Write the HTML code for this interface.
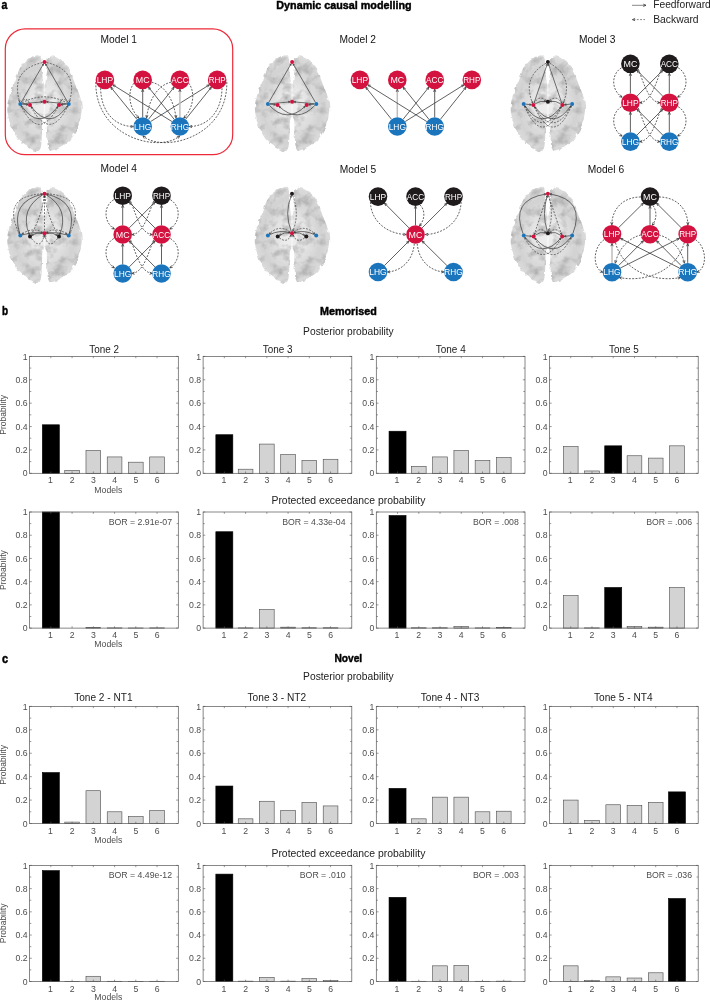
<!DOCTYPE html><html><head><meta charset="utf-8"><title>Dynamic causal modelling</title>
<style>html,body{margin:0;padding:0;background:#fff}svg{display:block}text{font-family:"Liberation Sans", sans-serif}</style></head><body>
<svg width="710" height="1000" viewBox="0 0 710 1000">
<rect width="710" height="1000" fill="#fff"/>
<defs>
<filter id="bf" x="-8%" y="-6%" width="116%" height="112%" color-interpolation-filters="sRGB"><feTurbulence type="fractalNoise" baseFrequency="0.17" numOctaves="2" seed="3" result="n1"/><feDisplacementMap in="SourceGraphic" in2="n1" scale="4" xChannelSelector="R" yChannelSelector="G" result="d"/><feOffset in="d" dx="0.3" dy="0.3" result="d2"/><feGaussianBlur in="d2" stdDeviation="0.75" result="sg"/><feTurbulence type="fractalNoise" baseFrequency="0.10" numOctaves="3" seed="11" result="n2"/><feColorMatrix in="n2" type="matrix" values="0 0 0 0 0.66  0 0 0 0 0.66  0 0 0 0 0.66  2.3 0 0 0 -1.04" result="dk"/><feComposite in="dk" in2="sg" operator="in" result="dk2"/><feMerge><feMergeNode in="sg"/><feMergeNode in="dk2"/></feMerge></filter>
<radialGradient id="bg" cx="0" cy="50" r="46" gradientUnits="userSpaceOnUse" gradientTransform="translate(0 50) scale(0.9 1.15) translate(0 -50)"><stop offset="0" stop-color="#f0f0f0"/><stop offset="0.3" stop-color="#e7e7e7"/><stop offset="0.72" stop-color="#d0d0d0"/><stop offset="1" stop-color="#dedede"/></radialGradient>
<g id="brain"><g filter="url(#bf)" opacity="0.95"><path d="M-3.00 5.10C-3.25 3.13 -3.75 2.00 -4.50 1.20C-5.25 0.40 -6.12 0.18 -7.50 0.30C-8.88 0.42 -10.67 0.68 -12.80 1.90C-14.93 3.12 -18.17 5.38 -20.30 7.60C-22.43 9.82 -24.12 12.23 -25.60 15.20C-27.08 18.17 -27.92 22.02 -29.20 25.40C-30.48 28.78 -32.08 32.13 -33.30 35.50C-34.52 38.87 -35.87 42.22 -36.50 45.60C-37.13 48.98 -37.32 52.42 -37.10 55.80C-36.88 59.18 -36.15 62.52 -35.20 65.90C-34.25 69.28 -32.98 72.93 -31.40 76.10C-29.82 79.27 -28.17 82.27 -25.70 84.90C-23.23 87.53 -19.38 90.03 -16.60 91.90C-13.82 93.77 -10.85 95.47 -9.00 96.10C-7.15 96.73 -6.42 96.50 -5.50 95.70C-4.58 94.90 -3.97 93.58 -3.50 91.30C-3.03 89.02 -2.88 85.22 -2.70 82.00C-2.52 78.78 -2.48 74.67 -2.40 72.00C-2.32 69.33 -2.47 67.67 -2.20 66.00C-1.93 64.33 -1.20 63.33 -0.80 62.00C-0.40 60.67 0.03 62.67 0.20 58.00C0.37 53.33 0.37 39.00 0.20 34.00C0.03 29.00 -0.43 30.17 -0.80 28.00C-1.17 25.83 -1.63 23.50 -2.00 21.00C-2.37 18.50 -2.83 15.65 -3.00 13.00C-3.17 10.35 -2.75 7.07 -3.00 5.10Z" fill="url(#bg)"/><path d="M3.00 5.10C3.25 3.13 3.75 2.00 4.50 1.20C5.25 0.40 6.12 0.18 7.50 0.30C8.88 0.42 10.67 0.68 12.80 1.90C14.93 3.12 18.17 5.38 20.30 7.60C22.43 9.82 24.12 12.23 25.60 15.20C27.08 18.17 27.92 22.02 29.20 25.40C30.48 28.78 32.08 32.13 33.30 35.50C34.52 38.87 35.87 42.22 36.50 45.60C37.13 48.98 37.32 52.42 37.10 55.80C36.88 59.18 36.15 62.52 35.20 65.90C34.25 69.28 32.98 72.93 31.40 76.10C29.82 79.27 28.17 82.27 25.70 84.90C23.23 87.53 19.38 90.03 16.60 91.90C13.82 93.77 10.85 95.47 9.00 96.10C7.15 96.73 6.42 96.50 5.50 95.70C4.58 94.90 3.97 93.58 3.50 91.30C3.03 89.02 2.88 85.22 2.70 82.00C2.52 78.78 2.48 74.67 2.40 72.00C2.32 69.33 2.47 67.67 2.20 66.00C1.93 64.33 1.20 63.33 0.80 62.00C0.40 60.67 -0.03 62.67 -0.20 58.00C-0.37 53.33 -0.37 39.00 -0.20 34.00C-0.03 29.00 0.43 30.17 0.80 28.00C1.17 25.83 1.63 23.50 2.00 21.00C2.37 18.50 2.83 15.65 3.00 13.00C3.17 10.35 2.75 7.07 3.00 5.10Z" fill="url(#bg)"/></g><path d="M0 30V60" stroke="#fff" stroke-opacity="0.45" stroke-width="1.6" fill="none"/></g>
</defs>
<rect x="5.3" y="28.9" width="227.4" height="125.8" rx="20" ry="20" fill="none" stroke="#ee2a3a" stroke-width="1.2"/>
<use href="#brain" x="44.5" y="55.0"/>
<use href="#brain" x="292.1" y="55.0"/>
<use href="#brain" x="547.9" y="55.0"/>
<use href="#brain" x="44.5" y="186.6"/>
<use href="#brain" x="292.0" y="186.6"/>
<use href="#brain" x="547.9" y="186.6"/>
<path d="M21.30 102.17L43.50 63.83" fill="none" stroke="#383838" stroke-width="0.7"/>
<path d="M43.28 65.55L43.50 63.83L42.11 64.88" fill="none" stroke="#383838" stroke-width="0.7" stroke-linecap="round" stroke-linejoin="round"/>
<path d="M67.70 102.17L45.50 63.83" fill="none" stroke="#383838" stroke-width="0.7"/>
<path d="M46.89 64.88L45.50 63.83L45.72 65.55" fill="none" stroke="#383838" stroke-width="0.7" stroke-linecap="round" stroke-linejoin="round"/>
<path d="M22.29 103.72L42.51 101.88" fill="none" stroke="#383838" stroke-width="0.7"/>
<path d="M40.98 102.70L42.51 101.88L40.85 101.36" fill="none" stroke="#383838" stroke-width="0.7" stroke-linecap="round" stroke-linejoin="round"/>
<path d="M66.71 103.72L46.49 101.88" fill="none" stroke="#383838" stroke-width="0.7"/>
<path d="M48.15 101.36L46.49 101.88L48.02 102.70" fill="none" stroke="#383838" stroke-width="0.7" stroke-linecap="round" stroke-linejoin="round"/>
<path d="M22.29 104.13L28.01 104.77" fill="none" stroke="#383838" stroke-width="0.7"/>
<path d="M26.35 105.26L28.01 104.77L26.50 103.93" fill="none" stroke="#383838" stroke-width="0.7" stroke-linecap="round" stroke-linejoin="round"/>
<path d="M66.71 104.13L60.99 104.77" fill="none" stroke="#383838" stroke-width="0.7"/>
<path d="M62.50 103.93L60.99 104.77L62.65 105.26" fill="none" stroke="#383838" stroke-width="0.7" stroke-linecap="round" stroke-linejoin="round"/>
<path d="M21.42 105.56Q38.88 131.54 57.79 106.59" fill="none" stroke="#383838" stroke-width="0.7"/>
<path d="M57.36 108.27L57.79 106.59L56.29 107.46" fill="none" stroke="#383838" stroke-width="0.7" stroke-linecap="round" stroke-linejoin="round"/>
<path d="M67.58 105.56Q50.12 131.54 31.21 106.59" fill="none" stroke="#383838" stroke-width="0.7"/>
<path d="M32.71 107.46L31.21 106.59L31.64 108.27" fill="none" stroke="#383838" stroke-width="0.7" stroke-linecap="round" stroke-linejoin="round"/>
<path d="M42.55 62.54Q9.83 69.93 19.71 101.99" fill="none" stroke="#383838" stroke-width="0.7" stroke-dasharray="1.9 1.4"/>
<path d="M18.60 100.66L19.71 101.99L19.88 100.26" fill="none" stroke="#383838" stroke-width="0.7" stroke-linecap="round" stroke-linejoin="round"/>
<path d="M46.45 62.54Q79.17 69.93 69.29 101.99" fill="none" stroke="#383838" stroke-width="0.7" stroke-dasharray="1.9 1.4"/>
<path d="M69.12 100.26L69.29 101.99L70.40 100.66" fill="none" stroke="#383838" stroke-width="0.7" stroke-linecap="round" stroke-linejoin="round"/>
<path d="M22.06 102.94Q44.50 90.74 66.94 102.94" fill="none" stroke="#383838" stroke-width="0.7" stroke-dasharray="1.9 1.4"/>
<path d="M58.04 106.75Q38.57 142.38 21.16 105.71" fill="none" stroke="#383838" stroke-width="0.7" stroke-dasharray="1.9 1.4"/>
<path d="M22.45 106.86L21.16 105.71L21.24 107.44" fill="none" stroke="#383838" stroke-width="0.7" stroke-linecap="round" stroke-linejoin="round"/>
<path d="M30.96 106.75Q50.43 142.38 67.84 105.71" fill="none" stroke="#383838" stroke-width="0.7" stroke-dasharray="1.9 1.4"/>
<path d="M67.76 107.44L67.84 105.71L66.55 106.86" fill="none" stroke="#383838" stroke-width="0.7" stroke-linecap="round" stroke-linejoin="round"/>
<path d="M29.23 103.15Q26.14 95.72 21.46 102.27" fill="none" stroke="#383838" stroke-width="0.7" stroke-dasharray="1.9 1.4"/>
<path d="M59.77 103.15Q62.86 95.72 67.54 102.27" fill="none" stroke="#383838" stroke-width="0.7" stroke-dasharray="1.9 1.4"/>
<circle cx="44.50" cy="62.10" r="2.0" fill="#d4123f"/>
<circle cx="44.50" cy="101.70" r="2.0" fill="#d4123f"/>
<circle cx="30.00" cy="105.00" r="2.0" fill="#d4123f"/>
<circle cx="59.00" cy="105.00" r="2.0" fill="#d4123f"/>
<circle cx="20.30" cy="103.90" r="2.0" fill="#1b75bc"/>
<circle cx="68.70" cy="103.90" r="2.0" fill="#1b75bc"/>
<path d="M136.84 119.28L110.76 87.12" fill="none" stroke="#383838" stroke-width="0.8"/>
<path d="M112.96 88.30L110.76 87.12L111.46 89.52" fill="none" stroke="#383838" stroke-width="0.8" stroke-linecap="round" stroke-linejoin="round"/>
<path d="M142.70 117.20L142.70 89.20" fill="none" stroke="#383838" stroke-width="0.8"/>
<path d="M143.67 91.50L142.70 89.20L141.73 91.50" fill="none" stroke="#383838" stroke-width="0.8" stroke-linecap="round" stroke-linejoin="round"/>
<path d="M148.50 119.23L174.10 87.17" fill="none" stroke="#383838" stroke-width="0.8"/>
<path d="M173.42 89.57L174.10 87.17L171.91 88.36" fill="none" stroke="#383838" stroke-width="0.8" stroke-linecap="round" stroke-linejoin="round"/>
<path d="M150.58 121.57L209.32 84.83" fill="none" stroke="#383838" stroke-width="0.8"/>
<path d="M207.88 86.87L209.32 84.83L206.85 85.23" fill="none" stroke="#383838" stroke-width="0.8" stroke-linecap="round" stroke-linejoin="round"/>
<path d="M172.00 121.59L112.80 84.81" fill="none" stroke="#383838" stroke-width="0.8"/>
<path d="M115.26 85.20L112.80 84.81L114.24 86.84" fill="none" stroke="#383838" stroke-width="0.8" stroke-linecap="round" stroke-linejoin="round"/>
<path d="M174.10 119.23L148.50 87.17" fill="none" stroke="#383838" stroke-width="0.8"/>
<path d="M150.69 88.36L148.50 87.17L149.18 89.57" fill="none" stroke="#383838" stroke-width="0.8" stroke-linecap="round" stroke-linejoin="round"/>
<path d="M179.90 117.20L179.90 89.20" fill="none" stroke="#bdbdbd" stroke-width="1.5"/>
<path d="M180.87 91.50L179.90 89.20L178.93 91.50" fill="none" stroke="#383838" stroke-width="0.8" stroke-linecap="round" stroke-linejoin="round"/>
<path d="M185.71 119.24L211.39 87.16" fill="none" stroke="#383838" stroke-width="0.8"/>
<path d="M210.71 89.56L211.39 87.16L209.20 88.35" fill="none" stroke="#383838" stroke-width="0.8" stroke-linecap="round" stroke-linejoin="round"/>
<path d="M100.60 88.20C101.00 112.00 115.00 126.50 133.30 126.50" fill="none" stroke="#383838" stroke-width="0.8" stroke-dasharray="1.9 1.4"/>
<path d="M131.00 127.47L133.30 126.50L131.00 125.53" fill="none" stroke="#383838" stroke-width="0.8" stroke-linecap="round" stroke-linejoin="round"/>
<path d="M222.00 88.20C221.60 112.00 207.60 126.50 189.30 126.50" fill="none" stroke="#383838" stroke-width="0.8" stroke-dasharray="1.9 1.4"/>
<path d="M191.60 125.53L189.30 126.50L191.60 127.47" fill="none" stroke="#383838" stroke-width="0.8" stroke-linecap="round" stroke-linejoin="round"/>
<path d="M95.80 82.00C95.00 138.00 160.00 153.00 179.60 136.00" fill="none" stroke="#383838" stroke-width="0.8" stroke-dasharray="1.9 1.4"/>
<path d="M178.50 138.24L179.60 136.00L177.23 136.78" fill="none" stroke="#383838" stroke-width="0.8" stroke-linecap="round" stroke-linejoin="round"/>
<path d="M226.80 82.00C227.60 138.00 162.60 153.00 143.00 136.00" fill="none" stroke="#383838" stroke-width="0.8" stroke-dasharray="1.9 1.4"/>
<path d="M145.37 136.78L143.00 136.00L144.10 138.24" fill="none" stroke="#383838" stroke-width="0.8" stroke-linecap="round" stroke-linejoin="round"/>
<path d="M134.00 83.10C127.00 92.00 129.00 108.00 138.80 118.10" fill="none" stroke="#383838" stroke-width="0.8" stroke-dasharray="1.9 1.4"/>
<path d="M136.51 117.12L138.80 118.10L137.89 115.78" fill="none" stroke="#383838" stroke-width="0.8" stroke-linecap="round" stroke-linejoin="round"/>
<path d="M188.60 83.10C195.60 92.00 193.60 108.00 183.80 118.10" fill="none" stroke="#383838" stroke-width="0.8" stroke-dasharray="1.9 1.4"/>
<path d="M184.71 115.78L183.80 118.10L186.09 117.12" fill="none" stroke="#383838" stroke-width="0.8" stroke-linecap="round" stroke-linejoin="round"/>
<path d="M171.00 82.20C158.00 85.00 148.50 100.00 146.60 118.00" fill="none" stroke="#383838" stroke-width="0.8" stroke-dasharray="1.9 1.4"/>
<path d="M145.88 115.61L146.60 118.00L147.80 115.81" fill="none" stroke="#383838" stroke-width="0.8" stroke-linecap="round" stroke-linejoin="round"/>
<path d="M151.60 82.20C164.60 85.00 174.10 100.00 176.00 118.00" fill="none" stroke="#383838" stroke-width="0.8" stroke-dasharray="1.9 1.4"/>
<path d="M174.80 115.81L176.00 118.00L176.72 115.61" fill="none" stroke="#383838" stroke-width="0.8" stroke-linecap="round" stroke-linejoin="round"/>
<circle cx="104.90" cy="79.90" r="9.3" fill="#d4123f"/>
<text x="104.90" y="82.90" font-size="8.4" text-anchor="middle" fill="#fff" textLength="16.4" lengthAdjust="spacingAndGlyphs" >LHP</text>
<circle cx="142.70" cy="79.90" r="9.3" fill="#d4123f"/>
<text x="142.70" y="82.90" font-size="8.4" text-anchor="middle" fill="#fff" textLength="13.8" lengthAdjust="spacingAndGlyphs" >MC</text>
<circle cx="179.90" cy="79.90" r="9.3" fill="#d4123f"/>
<text x="179.90" y="82.90" font-size="8.4" text-anchor="middle" fill="#fff" textLength="17.3" lengthAdjust="spacingAndGlyphs" >ACC</text>
<circle cx="217.20" cy="79.90" r="9.3" fill="#d4123f"/>
<text x="217.20" y="82.90" font-size="8.4" text-anchor="middle" fill="#fff" textLength="17.1" lengthAdjust="spacingAndGlyphs" >RHP</text>
<circle cx="142.70" cy="126.50" r="9.3" fill="#1b75bc"/>
<text x="142.70" y="129.50" font-size="8.4" text-anchor="middle" fill="#fff" textLength="17.3" lengthAdjust="spacingAndGlyphs" >LHG</text>
<circle cx="179.90" cy="126.50" r="9.3" fill="#1b75bc"/>
<text x="179.90" y="129.50" font-size="8.4" text-anchor="middle" fill="#fff" textLength="18.3" lengthAdjust="spacingAndGlyphs" >RHG</text>
<path d="M268.90 102.17L291.10 63.83" fill="none" stroke="#383838" stroke-width="0.7"/>
<path d="M290.88 65.55L291.10 63.83L289.71 64.88" fill="none" stroke="#383838" stroke-width="0.7" stroke-linecap="round" stroke-linejoin="round"/>
<path d="M315.30 102.17L293.10 63.83" fill="none" stroke="#383838" stroke-width="0.7"/>
<path d="M294.49 64.88L293.10 63.83L293.32 65.55" fill="none" stroke="#383838" stroke-width="0.7" stroke-linecap="round" stroke-linejoin="round"/>
<path d="M269.89 103.72L290.11 101.88" fill="none" stroke="#383838" stroke-width="0.7"/>
<path d="M288.58 102.70L290.11 101.88L288.45 101.36" fill="none" stroke="#383838" stroke-width="0.7" stroke-linecap="round" stroke-linejoin="round"/>
<path d="M314.31 103.72L294.09 101.88" fill="none" stroke="#383838" stroke-width="0.7"/>
<path d="M295.75 101.36L294.09 101.88L295.62 102.70" fill="none" stroke="#383838" stroke-width="0.7" stroke-linecap="round" stroke-linejoin="round"/>
<path d="M269.89 104.13L275.61 104.77" fill="none" stroke="#383838" stroke-width="0.7"/>
<path d="M273.95 105.26L275.61 104.77L274.10 103.93" fill="none" stroke="#383838" stroke-width="0.7" stroke-linecap="round" stroke-linejoin="round"/>
<path d="M314.31 104.13L308.59 104.77" fill="none" stroke="#383838" stroke-width="0.7"/>
<path d="M310.10 103.93L308.59 104.77L310.25 105.26" fill="none" stroke="#383838" stroke-width="0.7" stroke-linecap="round" stroke-linejoin="round"/>
<path d="M269.27 105.35Q286.70 123.80 305.15 106.37" fill="none" stroke="#383838" stroke-width="0.7"/>
<path d="M304.44 107.96L305.15 106.37L303.52 106.98" fill="none" stroke="#383838" stroke-width="0.7" stroke-linecap="round" stroke-linejoin="round"/>
<path d="M314.93 105.35Q297.50 123.80 279.05 106.37" fill="none" stroke="#383838" stroke-width="0.7"/>
<path d="M280.68 106.98L279.05 106.37L279.76 107.96" fill="none" stroke="#383838" stroke-width="0.7" stroke-linecap="round" stroke-linejoin="round"/>
<circle cx="292.10" cy="62.10" r="2.0" fill="#d4123f"/>
<circle cx="292.10" cy="101.70" r="2.0" fill="#d4123f"/>
<circle cx="277.60" cy="105.00" r="2.0" fill="#d4123f"/>
<circle cx="306.60" cy="105.00" r="2.0" fill="#d4123f"/>
<circle cx="267.90" cy="103.90" r="2.0" fill="#1b75bc"/>
<circle cx="316.30" cy="103.90" r="2.0" fill="#1b75bc"/>
<path d="M391.48 119.25L365.72 87.15" fill="none" stroke="#383838" stroke-width="0.8"/>
<path d="M367.91 88.34L365.72 87.15L366.41 89.55" fill="none" stroke="#383838" stroke-width="0.8" stroke-linecap="round" stroke-linejoin="round"/>
<path d="M397.30 117.20L397.30 89.20" fill="none" stroke="#bdbdbd" stroke-width="1.5"/>
<path d="M398.27 91.50L397.30 89.20L396.33 91.50" fill="none" stroke="#383838" stroke-width="0.8" stroke-linecap="round" stroke-linejoin="round"/>
<path d="M403.12 119.25L428.88 87.15" fill="none" stroke="#383838" stroke-width="0.8"/>
<path d="M428.19 89.55L428.88 87.15L426.69 88.34" fill="none" stroke="#383838" stroke-width="0.8" stroke-linecap="round" stroke-linejoin="round"/>
<path d="M405.18 121.57L463.92 84.83" fill="none" stroke="#383838" stroke-width="0.8"/>
<path d="M462.48 86.87L463.92 84.83L461.45 85.23" fill="none" stroke="#383838" stroke-width="0.8" stroke-linecap="round" stroke-linejoin="round"/>
<path d="M426.81 121.58L367.79 84.82" fill="none" stroke="#383838" stroke-width="0.8"/>
<path d="M370.26 85.21L367.79 84.82L369.23 86.85" fill="none" stroke="#383838" stroke-width="0.8" stroke-linecap="round" stroke-linejoin="round"/>
<path d="M428.88 119.25L403.12 87.15" fill="none" stroke="#383838" stroke-width="0.8"/>
<path d="M405.31 88.34L403.12 87.15L403.81 89.55" fill="none" stroke="#383838" stroke-width="0.8" stroke-linecap="round" stroke-linejoin="round"/>
<path d="M434.70 117.20L434.70 89.20" fill="none" stroke="#383838" stroke-width="0.8"/>
<path d="M435.67 91.50L434.70 89.20L433.73 91.50" fill="none" stroke="#383838" stroke-width="0.8" stroke-linecap="round" stroke-linejoin="round"/>
<path d="M440.49 119.22L466.01 87.18" fill="none" stroke="#383838" stroke-width="0.8"/>
<path d="M465.33 89.58L466.01 87.18L463.82 88.37" fill="none" stroke="#383838" stroke-width="0.8" stroke-linecap="round" stroke-linejoin="round"/>
<circle cx="359.90" cy="79.90" r="9.3" fill="#d4123f"/>
<text x="359.90" y="82.90" font-size="8.4" text-anchor="middle" fill="#fff" textLength="16.4" lengthAdjust="spacingAndGlyphs" >LHP</text>
<circle cx="397.30" cy="79.90" r="9.3" fill="#d4123f"/>
<text x="397.30" y="82.90" font-size="8.4" text-anchor="middle" fill="#fff" textLength="13.8" lengthAdjust="spacingAndGlyphs" >MC</text>
<circle cx="434.70" cy="79.90" r="9.3" fill="#d4123f"/>
<text x="434.70" y="82.90" font-size="8.4" text-anchor="middle" fill="#fff" textLength="17.3" lengthAdjust="spacingAndGlyphs" >ACC</text>
<circle cx="471.80" cy="79.90" r="9.3" fill="#d4123f"/>
<text x="471.80" y="82.90" font-size="8.4" text-anchor="middle" fill="#fff" textLength="17.1" lengthAdjust="spacingAndGlyphs" >RHP</text>
<circle cx="397.30" cy="126.50" r="9.3" fill="#1b75bc"/>
<text x="397.30" y="129.50" font-size="8.4" text-anchor="middle" fill="#fff" textLength="17.3" lengthAdjust="spacingAndGlyphs" >LHG</text>
<circle cx="434.70" cy="126.50" r="9.3" fill="#1b75bc"/>
<text x="434.70" y="129.50" font-size="8.4" text-anchor="middle" fill="#fff" textLength="18.3" lengthAdjust="spacingAndGlyphs" >RHG</text>
<path d="M525.69 104.13L531.41 104.77" fill="none" stroke="#383838" stroke-width="0.7"/>
<path d="M529.75 105.26L531.41 104.77L529.90 103.93" fill="none" stroke="#383838" stroke-width="0.7" stroke-linecap="round" stroke-linejoin="round"/>
<path d="M570.11 104.13L564.39 104.77" fill="none" stroke="#383838" stroke-width="0.7"/>
<path d="M565.90 103.93L564.39 104.77L566.05 105.26" fill="none" stroke="#383838" stroke-width="0.7" stroke-linecap="round" stroke-linejoin="round"/>
<path d="M524.82 105.56Q542.28 131.54 561.19 106.59" fill="none" stroke="#383838" stroke-width="0.7"/>
<path d="M560.76 108.27L561.19 106.59L559.69 107.46" fill="none" stroke="#383838" stroke-width="0.7" stroke-linecap="round" stroke-linejoin="round"/>
<path d="M570.98 105.56Q553.52 131.54 534.61 106.59" fill="none" stroke="#383838" stroke-width="0.7"/>
<path d="M536.11 107.46L534.61 106.59L535.04 108.27" fill="none" stroke="#383838" stroke-width="0.7" stroke-linecap="round" stroke-linejoin="round"/>
<path d="M534.04 103.11L547.26 63.99" fill="none" stroke="#383838" stroke-width="0.7"/>
<path d="M547.38 65.73L547.26 63.99L546.11 65.30" fill="none" stroke="#383838" stroke-width="0.7" stroke-linecap="round" stroke-linejoin="round"/>
<path d="M561.76 103.11L548.54 63.99" fill="none" stroke="#383838" stroke-width="0.7"/>
<path d="M549.69 65.30L548.54 63.99L548.42 65.73" fill="none" stroke="#383838" stroke-width="0.7" stroke-linecap="round" stroke-linejoin="round"/>
<path d="M535.05 103.86Q539.99 100.45 545.92 101.39" fill="none" stroke="#383838" stroke-width="0.7"/>
<path d="M544.24 101.80L545.92 101.39L544.45 100.47" fill="none" stroke="#383838" stroke-width="0.7" stroke-linecap="round" stroke-linejoin="round"/>
<path d="M560.75 103.86Q555.81 100.45 549.88 101.39" fill="none" stroke="#383838" stroke-width="0.7"/>
<path d="M551.35 100.47L549.88 101.39L551.56 101.80" fill="none" stroke="#383838" stroke-width="0.7" stroke-linecap="round" stroke-linejoin="round"/>
<path d="M546.17 63.10Q521.77 77.17 532.63 103.15" fill="none" stroke="#383838" stroke-width="0.7" stroke-dasharray="1.9 1.4"/>
<path d="M531.39 101.94L532.63 103.15L532.63 101.42" fill="none" stroke="#383838" stroke-width="0.7" stroke-linecap="round" stroke-linejoin="round"/>
<path d="M549.63 63.10Q574.03 77.17 563.17 103.15" fill="none" stroke="#383838" stroke-width="0.7" stroke-dasharray="1.9 1.4"/>
<path d="M563.17 101.42L563.17 103.15L564.41 101.94" fill="none" stroke="#383838" stroke-width="0.7" stroke-linecap="round" stroke-linejoin="round"/>
<path d="M546.31 100.49Q538.67 94.65 534.31 103.22" fill="none" stroke="#383838" stroke-width="0.7" stroke-dasharray="1.9 1.4"/>
<path d="M549.49 100.49Q557.13 94.65 561.49 103.22" fill="none" stroke="#383838" stroke-width="0.7" stroke-dasharray="1.9 1.4"/>
<path d="M561.38 106.72Q542.06 139.28 524.62 105.68" fill="none" stroke="#383838" stroke-width="0.7" stroke-dasharray="1.9 1.4"/>
<path d="M525.95 106.79L524.62 105.68L524.76 107.40" fill="none" stroke="#383838" stroke-width="0.7" stroke-linecap="round" stroke-linejoin="round"/>
<path d="M534.42 106.72Q553.74 139.28 571.18 105.68" fill="none" stroke="#383838" stroke-width="0.7" stroke-dasharray="1.9 1.4"/>
<path d="M571.04 107.40L571.18 105.68L569.85 106.79" fill="none" stroke="#383838" stroke-width="0.7" stroke-linecap="round" stroke-linejoin="round"/>
<path d="M561.53 106.80Q541.82 147.79 524.46 105.75" fill="none" stroke="#383838" stroke-width="0.7" stroke-dasharray="1.9 1.4"/>
<path d="M534.27 106.80Q553.98 147.79 571.34 105.75" fill="none" stroke="#383838" stroke-width="0.7" stroke-dasharray="1.9 1.4"/>
<circle cx="547.90" cy="62.10" r="2.0" fill="#1f1a1b"/>
<circle cx="547.90" cy="101.70" r="2.0" fill="#1f1a1b"/>
<circle cx="533.40" cy="105.00" r="2.0" fill="#d4123f"/>
<circle cx="562.40" cy="105.00" r="2.0" fill="#d4123f"/>
<circle cx="523.70" cy="103.90" r="2.0" fill="#1b75bc"/>
<circle cx="572.10" cy="103.90" r="2.0" fill="#1b75bc"/>
<path d="M630.40 132.30L630.40 112.00" fill="none" stroke="#383838" stroke-width="0.8"/>
<path d="M631.37 114.30L630.40 112.00L629.43 114.30" fill="none" stroke="#383838" stroke-width="0.8" stroke-linecap="round" stroke-linejoin="round"/>
<path d="M636.98 135.02L662.72 109.28" fill="none" stroke="#383838" stroke-width="0.8"/>
<path d="M661.78 111.59L662.72 109.28L660.41 110.22" fill="none" stroke="#383838" stroke-width="0.8" stroke-linecap="round" stroke-linejoin="round"/>
<path d="M662.72 135.02L636.98 109.28" fill="none" stroke="#383838" stroke-width="0.8"/>
<path d="M639.29 110.22L636.98 109.28L637.92 111.59" fill="none" stroke="#383838" stroke-width="0.8" stroke-linecap="round" stroke-linejoin="round"/>
<path d="M669.30 132.30L669.30 112.00" fill="none" stroke="#383838" stroke-width="0.8"/>
<path d="M670.27 114.30L669.30 112.00L668.33 114.30" fill="none" stroke="#383838" stroke-width="0.8" stroke-linecap="round" stroke-linejoin="round"/>
<path d="M621.50 106.70C611.00 113.00 611.00 129.00 622.10 136.10" fill="none" stroke="#383838" stroke-width="0.8" stroke-dasharray="1.9 1.4"/>
<path d="M619.64 135.67L622.10 136.10L620.68 134.05" fill="none" stroke="#383838" stroke-width="0.8" stroke-linecap="round" stroke-linejoin="round"/>
<path d="M678.20 106.70C688.70 113.00 688.70 129.00 677.60 136.10" fill="none" stroke="#383838" stroke-width="0.8" stroke-dasharray="1.9 1.4"/>
<path d="M679.02 134.05L677.60 136.10L680.06 135.67" fill="none" stroke="#383838" stroke-width="0.8" stroke-linecap="round" stroke-linejoin="round"/>
<path d="M638.20 108.00C643.00 119.00 648.00 141.00 660.00 141.60" fill="none" stroke="#383838" stroke-width="0.8" stroke-dasharray="1.9 1.4"/>
<path d="M657.65 142.45L660.00 141.60L657.75 140.52" fill="none" stroke="#383838" stroke-width="0.8" stroke-linecap="round" stroke-linejoin="round"/>
<path d="M661.50 108.00C656.70 119.00 651.70 141.00 639.70 141.60" fill="none" stroke="#383838" stroke-width="0.8" stroke-dasharray="1.9 1.4"/>
<path d="M641.95 140.52L639.70 141.60L642.05 142.45" fill="none" stroke="#383838" stroke-width="0.8" stroke-linecap="round" stroke-linejoin="round"/>
<path d="M630.40 93.40L630.40 73.10" fill="none" stroke="#383838" stroke-width="0.8"/>
<path d="M631.37 75.40L630.40 73.10L629.43 75.40" fill="none" stroke="#383838" stroke-width="0.8" stroke-linecap="round" stroke-linejoin="round"/>
<path d="M636.98 96.12L662.72 70.38" fill="none" stroke="#383838" stroke-width="0.8"/>
<path d="M661.78 72.69L662.72 70.38L660.41 71.32" fill="none" stroke="#383838" stroke-width="0.8" stroke-linecap="round" stroke-linejoin="round"/>
<path d="M662.72 96.12L636.98 70.38" fill="none" stroke="#383838" stroke-width="0.8"/>
<path d="M639.29 71.32L636.98 70.38L637.92 72.69" fill="none" stroke="#383838" stroke-width="0.8" stroke-linecap="round" stroke-linejoin="round"/>
<path d="M669.30 93.40L669.30 73.10" fill="none" stroke="#383838" stroke-width="0.8"/>
<path d="M670.27 75.40L669.30 73.10L668.33 75.40" fill="none" stroke="#383838" stroke-width="0.8" stroke-linecap="round" stroke-linejoin="round"/>
<path d="M621.50 67.80C611.00 74.10 611.00 90.10 622.10 97.20" fill="none" stroke="#383838" stroke-width="0.8" stroke-dasharray="1.9 1.4"/>
<path d="M619.64 96.77L622.10 97.20L620.68 95.15" fill="none" stroke="#383838" stroke-width="0.8" stroke-linecap="round" stroke-linejoin="round"/>
<path d="M678.20 67.80C688.70 74.10 688.70 90.10 677.60 97.20" fill="none" stroke="#383838" stroke-width="0.8" stroke-dasharray="1.9 1.4"/>
<path d="M679.02 95.15L677.60 97.20L680.06 96.77" fill="none" stroke="#383838" stroke-width="0.8" stroke-linecap="round" stroke-linejoin="round"/>
<path d="M638.20 69.10C643.00 80.10 648.00 102.10 660.00 102.70" fill="none" stroke="#383838" stroke-width="0.8" stroke-dasharray="1.9 1.4"/>
<path d="M657.65 103.55L660.00 102.70L657.75 101.62" fill="none" stroke="#383838" stroke-width="0.8" stroke-linecap="round" stroke-linejoin="round"/>
<path d="M661.50 69.10C656.70 80.10 651.70 102.10 639.70 102.70" fill="none" stroke="#383838" stroke-width="0.8" stroke-dasharray="1.9 1.4"/>
<path d="M641.95 101.62L639.70 102.70L642.05 103.55" fill="none" stroke="#383838" stroke-width="0.8" stroke-linecap="round" stroke-linejoin="round"/>
<circle cx="630.40" cy="63.80" r="9.3" fill="#1f1a1b"/>
<text x="630.40" y="66.80" font-size="8.4" text-anchor="middle" fill="#fff" textLength="13.8" lengthAdjust="spacingAndGlyphs" >MC</text>
<circle cx="669.30" cy="63.80" r="9.3" fill="#1f1a1b"/>
<text x="669.30" y="66.80" font-size="8.4" text-anchor="middle" fill="#fff" textLength="17.3" lengthAdjust="spacingAndGlyphs" >ACC</text>
<circle cx="630.40" cy="102.70" r="9.3" fill="#d4123f"/>
<text x="630.40" y="105.70" font-size="8.4" text-anchor="middle" fill="#fff" textLength="16.4" lengthAdjust="spacingAndGlyphs" >LHP</text>
<circle cx="669.30" cy="102.70" r="9.3" fill="#d4123f"/>
<text x="669.30" y="105.70" font-size="8.4" text-anchor="middle" fill="#fff" textLength="17.1" lengthAdjust="spacingAndGlyphs" >RHP</text>
<circle cx="630.40" cy="141.60" r="9.3" fill="#1b75bc"/>
<text x="630.40" y="144.60" font-size="8.4" text-anchor="middle" fill="#fff" textLength="17.3" lengthAdjust="spacingAndGlyphs" >LHG</text>
<circle cx="669.30" cy="141.60" r="9.3" fill="#1b75bc"/>
<text x="669.30" y="144.60" font-size="8.4" text-anchor="middle" fill="#fff" textLength="18.3" lengthAdjust="spacingAndGlyphs" >RHG</text>
<path d="M19.71 233.59Q9.83 201.53 42.55 194.14" fill="none" stroke="#383838" stroke-width="0.7"/>
<path d="M41.14 195.15L42.55 194.14L40.84 193.84" fill="none" stroke="#383838" stroke-width="0.7" stroke-linecap="round" stroke-linejoin="round"/>
<path d="M69.29 233.59Q79.17 201.53 46.45 194.14" fill="none" stroke="#383838" stroke-width="0.7"/>
<path d="M48.16 193.84L46.45 194.14L47.86 195.15" fill="none" stroke="#383838" stroke-width="0.7" stroke-linecap="round" stroke-linejoin="round"/>
<path d="M22.19 234.86Q32.14 231.50 42.52 233.01" fill="none" stroke="#383838" stroke-width="0.7"/>
<path d="M40.84 233.45L42.52 233.01L41.03 232.12" fill="none" stroke="#383838" stroke-width="0.7" stroke-linecap="round" stroke-linejoin="round"/>
<path d="M66.81 234.86Q56.86 231.50 46.48 233.01" fill="none" stroke="#383838" stroke-width="0.7"/>
<path d="M47.97 232.12L46.48 233.01L48.16 233.45" fill="none" stroke="#383838" stroke-width="0.7" stroke-linecap="round" stroke-linejoin="round"/>
<path d="M42.79 194.74Q19.23 209.06 29.27 234.74" fill="none" stroke="#383838" stroke-width="0.7"/>
<path d="M28.06 233.49L29.27 234.74L29.31 233.00" fill="none" stroke="#383838" stroke-width="0.7" stroke-linecap="round" stroke-linejoin="round"/>
<path d="M46.21 194.74Q69.77 209.06 59.73 234.74" fill="none" stroke="#383838" stroke-width="0.7"/>
<path d="M59.69 233.00L59.73 234.74L60.94 233.49" fill="none" stroke="#383838" stroke-width="0.7" stroke-linecap="round" stroke-linejoin="round"/>
<path d="M42.52 232.99Q36.59 232.05 31.65 235.46" fill="none" stroke="#383838" stroke-width="0.7"/>
<path d="M32.58 234.00L31.65 235.46L33.34 235.11" fill="none" stroke="#383838" stroke-width="0.7" stroke-linecap="round" stroke-linejoin="round"/>
<path d="M46.48 232.99Q52.41 232.05 57.35 235.46" fill="none" stroke="#383838" stroke-width="0.7"/>
<path d="M55.66 235.11L57.35 235.46L56.42 234.00" fill="none" stroke="#383838" stroke-width="0.7" stroke-linecap="round" stroke-linejoin="round"/>
<path d="M42.50 193.81Q0.63 196.21 19.40 233.71" fill="none" stroke="#383838" stroke-width="0.7" stroke-dasharray="1.9 1.4"/>
<path d="M18.09 232.58L19.40 233.71L19.29 231.98" fill="none" stroke="#383838" stroke-width="0.7" stroke-linecap="round" stroke-linejoin="round"/>
<path d="M46.50 193.81Q88.37 196.21 69.60 233.71" fill="none" stroke="#383838" stroke-width="0.7" stroke-dasharray="1.9 1.4"/>
<path d="M69.71 231.98L69.60 233.71L70.91 232.58" fill="none" stroke="#383838" stroke-width="0.7" stroke-linecap="round" stroke-linejoin="round"/>
<path d="M31.00 234.87Q41.54 216.60 44.24 195.68" fill="none" stroke="#383838" stroke-width="0.7" stroke-dasharray="1.9 1.4"/>
<path d="M44.70 197.36L44.24 195.68L43.37 197.18" fill="none" stroke="#383838" stroke-width="0.7" stroke-linecap="round" stroke-linejoin="round"/>
<path d="M58.00 234.87Q47.46 216.60 44.76 195.68" fill="none" stroke="#383838" stroke-width="0.7" stroke-dasharray="1.9 1.4"/>
<path d="M45.63 197.18L44.76 195.68L44.30 197.36" fill="none" stroke="#383838" stroke-width="0.7" stroke-linecap="round" stroke-linejoin="round"/>
<path d="M44.50 195.70L44.50 231.30" fill="none" stroke="#383838" stroke-width="0.7" stroke-dasharray="1.9 1.4"/>
<path d="M42.72 232.38Q31.70 226.66 21.88 234.27" fill="none" stroke="#383838" stroke-width="0.7" stroke-dasharray="1.9 1.4"/>
<path d="M22.73 232.76L21.88 234.27L23.56 233.82" fill="none" stroke="#383838" stroke-width="0.7" stroke-linecap="round" stroke-linejoin="round"/>
<path d="M46.28 232.38Q57.30 226.66 67.12 234.27" fill="none" stroke="#383838" stroke-width="0.7" stroke-dasharray="1.9 1.4"/>
<path d="M65.44 233.82L67.12 234.27L66.27 232.76" fill="none" stroke="#383838" stroke-width="0.7" stroke-linecap="round" stroke-linejoin="round"/>
<path d="M31.21 238.19Q40.88 250.90 44.10 235.26" fill="none" stroke="#383838" stroke-width="0.7" stroke-dasharray="1.9 1.4"/>
<path d="M44.43 236.96L44.10 235.26L43.12 236.69" fill="none" stroke="#383838" stroke-width="0.7" stroke-linecap="round" stroke-linejoin="round"/>
<path d="M57.79 238.19Q48.12 250.90 44.90 235.26" fill="none" stroke="#383838" stroke-width="0.7" stroke-dasharray="1.9 1.4"/>
<path d="M45.88 236.69L44.90 235.26L44.57 236.96" fill="none" stroke="#383838" stroke-width="0.7" stroke-linecap="round" stroke-linejoin="round"/>
<circle cx="44.50" cy="193.70" r="2.0" fill="#d4123f"/>
<circle cx="44.50" cy="233.30" r="2.0" fill="#d4123f"/>
<circle cx="30.00" cy="236.60" r="2.0" fill="#1f1a1b"/>
<circle cx="59.00" cy="236.60" r="2.0" fill="#1f1a1b"/>
<circle cx="20.30" cy="235.50" r="2.0" fill="#1b75bc"/>
<circle cx="68.70" cy="235.50" r="2.0" fill="#1b75bc"/>
<path d="M122.70 264.20L122.70 243.80" fill="none" stroke="#383838" stroke-width="0.8"/>
<path d="M123.67 246.10L122.70 243.80L121.73 246.10" fill="none" stroke="#383838" stroke-width="0.8" stroke-linecap="round" stroke-linejoin="round"/>
<path d="M129.26 266.91L154.94 241.09" fill="none" stroke="#383838" stroke-width="0.8"/>
<path d="M154.00 243.40L154.94 241.09L152.63 242.04" fill="none" stroke="#383838" stroke-width="0.8" stroke-linecap="round" stroke-linejoin="round"/>
<path d="M154.94 266.91L129.26 241.09" fill="none" stroke="#383838" stroke-width="0.8"/>
<path d="M131.57 242.04L129.26 241.09L130.20 243.40" fill="none" stroke="#383838" stroke-width="0.8" stroke-linecap="round" stroke-linejoin="round"/>
<path d="M161.50 264.20L161.50 243.80" fill="none" stroke="#383838" stroke-width="0.8"/>
<path d="M162.47 246.10L161.50 243.80L160.53 246.10" fill="none" stroke="#383838" stroke-width="0.8" stroke-linecap="round" stroke-linejoin="round"/>
<path d="M113.80 238.50C103.30 244.80 103.30 260.80 114.40 267.90" fill="none" stroke="#383838" stroke-width="0.8" stroke-dasharray="1.9 1.4"/>
<path d="M111.94 267.47L114.40 267.90L112.98 265.85" fill="none" stroke="#383838" stroke-width="0.8" stroke-linecap="round" stroke-linejoin="round"/>
<path d="M170.40 238.50C180.90 244.80 180.90 260.80 169.80 267.90" fill="none" stroke="#383838" stroke-width="0.8" stroke-dasharray="1.9 1.4"/>
<path d="M171.22 265.85L169.80 267.90L172.26 267.47" fill="none" stroke="#383838" stroke-width="0.8" stroke-linecap="round" stroke-linejoin="round"/>
<path d="M130.50 239.80C135.30 250.80 140.30 272.80 152.30 273.40" fill="none" stroke="#383838" stroke-width="0.8" stroke-dasharray="1.9 1.4"/>
<path d="M149.95 274.25L152.30 273.40L150.05 272.32" fill="none" stroke="#383838" stroke-width="0.8" stroke-linecap="round" stroke-linejoin="round"/>
<path d="M153.70 239.80C148.90 250.80 143.90 272.80 131.90 273.40" fill="none" stroke="#383838" stroke-width="0.8" stroke-dasharray="1.9 1.4"/>
<path d="M134.15 272.32L131.90 273.40L134.25 274.25" fill="none" stroke="#383838" stroke-width="0.8" stroke-linecap="round" stroke-linejoin="round"/>
<path d="M122.70 225.20L122.70 205.00" fill="none" stroke="#383838" stroke-width="0.8"/>
<path d="M123.67 207.30L122.70 205.00L121.73 207.30" fill="none" stroke="#383838" stroke-width="0.8" stroke-linecap="round" stroke-linejoin="round"/>
<path d="M129.28 227.92L154.92 202.28" fill="none" stroke="#383838" stroke-width="0.8"/>
<path d="M153.98 204.59L154.92 202.28L152.61 203.22" fill="none" stroke="#383838" stroke-width="0.8" stroke-linecap="round" stroke-linejoin="round"/>
<path d="M154.92 227.92L129.28 202.28" fill="none" stroke="#383838" stroke-width="0.8"/>
<path d="M131.59 203.22L129.28 202.28L130.22 204.59" fill="none" stroke="#383838" stroke-width="0.8" stroke-linecap="round" stroke-linejoin="round"/>
<path d="M161.50 225.20L161.50 205.00" fill="none" stroke="#383838" stroke-width="0.8"/>
<path d="M162.47 207.30L161.50 205.00L160.53 207.30" fill="none" stroke="#383838" stroke-width="0.8" stroke-linecap="round" stroke-linejoin="round"/>
<path d="M113.80 199.70C103.30 206.00 103.30 222.00 114.40 229.10" fill="none" stroke="#383838" stroke-width="0.8" stroke-dasharray="1.9 1.4"/>
<path d="M111.94 228.67L114.40 229.10L112.98 227.05" fill="none" stroke="#383838" stroke-width="0.8" stroke-linecap="round" stroke-linejoin="round"/>
<path d="M170.40 199.70C180.90 206.00 180.90 222.00 169.80 229.10" fill="none" stroke="#383838" stroke-width="0.8" stroke-dasharray="1.9 1.4"/>
<path d="M171.22 227.05L169.80 229.10L172.26 228.67" fill="none" stroke="#383838" stroke-width="0.8" stroke-linecap="round" stroke-linejoin="round"/>
<path d="M130.50 201.00C135.30 212.00 140.30 234.00 152.30 234.60" fill="none" stroke="#383838" stroke-width="0.8" stroke-dasharray="1.9 1.4"/>
<path d="M149.95 235.45L152.30 234.60L150.05 233.52" fill="none" stroke="#383838" stroke-width="0.8" stroke-linecap="round" stroke-linejoin="round"/>
<path d="M153.70 201.00C148.90 212.00 143.90 234.00 131.90 234.60" fill="none" stroke="#383838" stroke-width="0.8" stroke-dasharray="1.9 1.4"/>
<path d="M134.15 233.52L131.90 234.60L134.25 235.45" fill="none" stroke="#383838" stroke-width="0.8" stroke-linecap="round" stroke-linejoin="round"/>
<circle cx="122.70" cy="195.70" r="9.3" fill="#1f1a1b"/>
<text x="122.70" y="198.70" font-size="8.4" text-anchor="middle" fill="#fff" textLength="16.4" lengthAdjust="spacingAndGlyphs" >LHP</text>
<circle cx="161.50" cy="195.70" r="9.3" fill="#1f1a1b"/>
<text x="161.50" y="198.70" font-size="8.4" text-anchor="middle" fill="#fff" textLength="17.1" lengthAdjust="spacingAndGlyphs" >RHP</text>
<circle cx="122.70" cy="234.50" r="9.3" fill="#d4123f"/>
<text x="122.70" y="237.50" font-size="8.4" text-anchor="middle" fill="#fff" textLength="13.8" lengthAdjust="spacingAndGlyphs" >MC</text>
<circle cx="161.50" cy="234.50" r="9.3" fill="#d4123f"/>
<text x="161.50" y="237.50" font-size="8.4" text-anchor="middle" fill="#fff" textLength="17.3" lengthAdjust="spacingAndGlyphs" >ACC</text>
<circle cx="122.70" cy="273.50" r="9.3" fill="#1b75bc"/>
<text x="122.70" y="276.50" font-size="8.4" text-anchor="middle" fill="#fff" textLength="17.3" lengthAdjust="spacingAndGlyphs" >LHG</text>
<circle cx="161.50" cy="273.50" r="9.3" fill="#1b75bc"/>
<text x="161.50" y="276.50" font-size="8.4" text-anchor="middle" fill="#fff" textLength="18.3" lengthAdjust="spacingAndGlyphs" >RHG</text>
<path d="M269.67 234.68Q279.47 229.58 290.08 232.64" fill="none" stroke="#383838" stroke-width="0.7"/>
<path d="M288.35 232.85L290.08 232.64L288.73 231.56" fill="none" stroke="#383838" stroke-width="0.7" stroke-linecap="round" stroke-linejoin="round"/>
<path d="M314.43 234.68Q304.58 229.56 293.92 232.64" fill="none" stroke="#383838" stroke-width="0.7"/>
<path d="M295.27 231.55L293.92 232.64L295.64 232.84" fill="none" stroke="#383838" stroke-width="0.7" stroke-linecap="round" stroke-linejoin="round"/>
<path d="M290.02 232.89Q284.19 231.99 279.34 235.36" fill="none" stroke="#383838" stroke-width="0.7"/>
<path d="M280.27 233.89L279.34 235.36L281.04 235.00" fill="none" stroke="#383838" stroke-width="0.7" stroke-linecap="round" stroke-linejoin="round"/>
<path d="M293.98 232.89Q299.81 231.99 304.66 235.36" fill="none" stroke="#383838" stroke-width="0.7"/>
<path d="M302.96 235.00L304.66 235.36L303.73 233.89" fill="none" stroke="#383838" stroke-width="0.7" stroke-linecap="round" stroke-linejoin="round"/>
<path d="M291.26 231.34Q284.10 213.45 291.26 195.56" fill="none" stroke="#383838" stroke-width="0.7"/>
<path d="M291.29 197.29L291.26 195.56L290.04 196.79" fill="none" stroke="#383838" stroke-width="0.7" stroke-linecap="round" stroke-linejoin="round"/>
<path d="M292.74 195.56Q299.90 213.45 292.74 231.34" fill="none" stroke="#383838" stroke-width="0.7" stroke-dasharray="1.9 1.4"/>
<path d="M292.71 229.61L292.74 231.34L293.96 230.11" fill="none" stroke="#383838" stroke-width="0.7" stroke-linecap="round" stroke-linejoin="round"/>
<path d="M290.38 232.03Q278.89 223.80 269.26 234.14" fill="none" stroke="#383838" stroke-width="0.7" stroke-dasharray="1.9 1.4"/>
<path d="M269.86 232.51L269.26 234.14L270.85 233.42" fill="none" stroke="#383838" stroke-width="0.7" stroke-linecap="round" stroke-linejoin="round"/>
<path d="M293.62 232.03Q305.16 223.75 314.84 234.14" fill="none" stroke="#383838" stroke-width="0.7" stroke-dasharray="1.9 1.4"/>
<path d="M313.25 233.42L314.84 234.14L314.24 232.51" fill="none" stroke="#383838" stroke-width="0.7" stroke-linecap="round" stroke-linejoin="round"/>
<path d="M279.25 237.76Q286.96 244.00 291.15 235.01" fill="none" stroke="#383838" stroke-width="0.7" stroke-dasharray="1.9 1.4"/>
<path d="M291.09 236.75L291.15 235.01L289.87 236.18" fill="none" stroke="#383838" stroke-width="0.7" stroke-linecap="round" stroke-linejoin="round"/>
<path d="M304.75 237.76Q297.04 244.00 292.85 235.01" fill="none" stroke="#383838" stroke-width="0.7" stroke-dasharray="1.9 1.4"/>
<path d="M294.13 236.18L292.85 235.01L292.91 236.75" fill="none" stroke="#383838" stroke-width="0.7" stroke-linecap="round" stroke-linejoin="round"/>
<circle cx="292.00" cy="193.70" r="2.0" fill="#1f1a1b"/>
<circle cx="292.00" cy="233.20" r="2.0" fill="#d4123f"/>
<circle cx="277.70" cy="236.50" r="2.0" fill="#1f1a1b"/>
<circle cx="306.30" cy="236.50" r="2.0" fill="#1f1a1b"/>
<circle cx="267.90" cy="235.60" r="2.0" fill="#1b75bc"/>
<circle cx="316.20" cy="235.60" r="2.0" fill="#1b75bc"/>
<path d="M384.58 265.42L408.92 241.08" fill="none" stroke="#383838" stroke-width="0.8"/>
<path d="M407.98 243.39L408.92 241.08L406.61 242.02" fill="none" stroke="#383838" stroke-width="0.8" stroke-linecap="round" stroke-linejoin="round"/>
<path d="M446.88 265.47L422.12 241.03" fill="none" stroke="#383838" stroke-width="0.8"/>
<path d="M424.44 241.96L422.12 241.03L423.08 243.34" fill="none" stroke="#383838" stroke-width="0.8" stroke-linecap="round" stroke-linejoin="round"/>
<path d="M408.96 227.89L384.54 203.21" fill="none" stroke="#383838" stroke-width="0.8"/>
<path d="M386.85 204.17L384.54 203.21L385.47 205.53" fill="none" stroke="#383838" stroke-width="0.8" stroke-linecap="round" stroke-linejoin="round"/>
<path d="M415.50 225.20L415.50 205.90" fill="none" stroke="#383838" stroke-width="0.8"/>
<path d="M416.47 208.20L415.50 205.90L414.53 208.20" fill="none" stroke="#383838" stroke-width="0.8" stroke-linecap="round" stroke-linejoin="round"/>
<path d="M422.08 227.93L446.92 203.17" fill="none" stroke="#383838" stroke-width="0.8"/>
<path d="M445.97 205.48L446.92 203.17L444.60 204.11" fill="none" stroke="#383838" stroke-width="0.8" stroke-linecap="round" stroke-linejoin="round"/>
<path d="M370.40 202.00C371.00 222.00 388.00 234.00 406.10 234.50" fill="none" stroke="#383838" stroke-width="0.8" stroke-dasharray="1.9 1.4"/>
<path d="M403.77 235.40L406.10 234.50L403.83 233.47" fill="none" stroke="#383838" stroke-width="0.8" stroke-linecap="round" stroke-linejoin="round"/>
<path d="M461.10 202.00C460.50 222.00 443.50 234.00 425.40 234.50" fill="none" stroke="#383838" stroke-width="0.8" stroke-dasharray="1.9 1.4"/>
<path d="M427.67 233.47L425.40 234.50L427.73 235.40" fill="none" stroke="#383838" stroke-width="0.8" stroke-linecap="round" stroke-linejoin="round"/>
<path d="M420.00 204.90C425.50 210.00 425.00 220.00 419.30 226.00" fill="none" stroke="#383838" stroke-width="0.8" stroke-dasharray="1.9 1.4"/>
<path d="M420.18 223.67L419.30 226.00L421.58 225.00" fill="none" stroke="#383838" stroke-width="0.8" stroke-linecap="round" stroke-linejoin="round"/>
<path d="M414.30 243.70C413.00 260.00 402.00 271.00 387.40 272.00" fill="none" stroke="#383838" stroke-width="0.8" stroke-dasharray="1.9 1.4"/>
<path d="M389.63 270.88L387.40 272.00L389.76 272.81" fill="none" stroke="#383838" stroke-width="0.8" stroke-linecap="round" stroke-linejoin="round"/>
<path d="M417.20 243.70C418.50 260.00 429.50 271.00 444.10 272.00" fill="none" stroke="#383838" stroke-width="0.8" stroke-dasharray="1.9 1.4"/>
<path d="M441.74 272.81L444.10 272.00L441.87 270.88" fill="none" stroke="#383838" stroke-width="0.8" stroke-linecap="round" stroke-linejoin="round"/>
<circle cx="378.00" cy="196.60" r="9.3" fill="#1f1a1b"/>
<text x="378.00" y="199.60" font-size="8.4" text-anchor="middle" fill="#fff" textLength="16.4" lengthAdjust="spacingAndGlyphs" >LHP</text>
<circle cx="415.50" cy="196.60" r="9.3" fill="#1f1a1b"/>
<text x="415.50" y="199.60" font-size="8.4" text-anchor="middle" fill="#fff" textLength="17.3" lengthAdjust="spacingAndGlyphs" >ACC</text>
<circle cx="453.50" cy="196.60" r="9.3" fill="#1f1a1b"/>
<text x="453.50" y="199.60" font-size="8.4" text-anchor="middle" fill="#fff" textLength="17.1" lengthAdjust="spacingAndGlyphs" >RHP</text>
<circle cx="415.50" cy="234.50" r="9.3" fill="#d4123f"/>
<text x="415.50" y="237.50" font-size="8.4" text-anchor="middle" fill="#fff" textLength="13.8" lengthAdjust="spacingAndGlyphs" >MC</text>
<circle cx="378.00" cy="272.00" r="9.3" fill="#1b75bc"/>
<text x="378.00" y="275.00" font-size="8.4" text-anchor="middle" fill="#fff" textLength="17.3" lengthAdjust="spacingAndGlyphs" >LHG</text>
<circle cx="453.50" cy="272.00" r="9.3" fill="#1b75bc"/>
<text x="453.50" y="275.00" font-size="8.4" text-anchor="middle" fill="#fff" textLength="18.3" lengthAdjust="spacingAndGlyphs" >RHG</text>
<path d="M523.08 233.74Q509.87 199.71 545.92 194.01" fill="none" stroke="#383838" stroke-width="0.7"/>
<path d="M544.45 194.93L545.92 194.01L544.24 193.60" fill="none" stroke="#383838" stroke-width="0.7" stroke-linecap="round" stroke-linejoin="round"/>
<path d="M572.82 233.73Q585.98 199.65 549.88 194.01" fill="none" stroke="#383838" stroke-width="0.7"/>
<path d="M551.56 193.59L549.88 194.01L551.35 194.92" fill="none" stroke="#383838" stroke-width="0.7" stroke-linecap="round" stroke-linejoin="round"/>
<path d="M525.79 235.78L531.61 236.32" fill="none" stroke="#383838" stroke-width="0.7"/>
<path d="M529.95 236.84L531.61 236.32L530.08 235.50" fill="none" stroke="#383838" stroke-width="0.7" stroke-linecap="round" stroke-linejoin="round"/>
<path d="M570.11 235.78L564.19 236.32" fill="none" stroke="#383838" stroke-width="0.7"/>
<path d="M565.72 235.50L564.19 236.32L565.85 236.84" fill="none" stroke="#383838" stroke-width="0.7" stroke-linecap="round" stroke-linejoin="round"/>
<path d="M525.02 237.19Q542.44 259.86 560.91 238.03" fill="none" stroke="#383838" stroke-width="0.7"/>
<path d="M560.39 239.68L560.91 238.03L559.36 238.81" fill="none" stroke="#383838" stroke-width="0.7" stroke-linecap="round" stroke-linejoin="round"/>
<path d="M570.88 237.19Q553.41 259.92 534.89 238.03" fill="none" stroke="#383838" stroke-width="0.7"/>
<path d="M536.44 238.81L534.89 238.03L535.41 239.68" fill="none" stroke="#383838" stroke-width="0.7" stroke-linecap="round" stroke-linejoin="round"/>
<path d="M535.16 235.25Q539.96 231.42 545.95 232.76" fill="none" stroke="#383838" stroke-width="0.7"/>
<path d="M544.24 233.07L545.95 232.76L544.53 231.76" fill="none" stroke="#383838" stroke-width="0.7" stroke-linecap="round" stroke-linejoin="round"/>
<path d="M560.64 235.25Q555.84 231.42 549.85 232.76" fill="none" stroke="#383838" stroke-width="0.7"/>
<path d="M551.27 231.76L549.85 232.76L551.56 233.07" fill="none" stroke="#383838" stroke-width="0.7" stroke-linecap="round" stroke-linejoin="round"/>
<path d="M547.29 231.30Q541.58 213.45 547.29 195.60" fill="none" stroke="#383838" stroke-width="0.7"/>
<path d="M547.44 197.33L547.29 195.60L546.16 196.92" fill="none" stroke="#383838" stroke-width="0.7" stroke-linecap="round" stroke-linejoin="round"/>
<path d="M547.27 195.60L534.23 234.60" fill="none" stroke="#383838" stroke-width="0.7" stroke-dasharray="1.9 1.4"/>
<path d="M534.10 232.87L534.23 234.60L535.38 233.30" fill="none" stroke="#383838" stroke-width="0.7" stroke-linecap="round" stroke-linejoin="round"/>
<path d="M548.53 195.60L561.57 234.60" fill="none" stroke="#383838" stroke-width="0.7" stroke-dasharray="1.9 1.4"/>
<path d="M560.42 233.30L561.57 234.60L561.70 232.87" fill="none" stroke="#383838" stroke-width="0.7" stroke-linecap="round" stroke-linejoin="round"/>
<path d="M548.51 195.60Q554.22 213.45 548.51 231.30" fill="none" stroke="#383838" stroke-width="0.7" stroke-dasharray="1.9 1.4"/>
<path d="M548.36 229.57L548.51 231.30L549.64 229.98" fill="none" stroke="#383838" stroke-width="0.7" stroke-linecap="round" stroke-linejoin="round"/>
<path d="M561.20 238.23Q542.17 271.38 524.71 237.38" fill="none" stroke="#383838" stroke-width="0.7" stroke-dasharray="1.9 1.4"/>
<path d="M526.04 238.50L524.71 237.38L524.85 239.11" fill="none" stroke="#383838" stroke-width="0.7" stroke-linecap="round" stroke-linejoin="round"/>
<path d="M534.60 238.23Q553.68 271.47 571.19 237.38" fill="none" stroke="#383838" stroke-width="0.7" stroke-dasharray="1.9 1.4"/>
<path d="M571.05 239.11L571.19 237.38L569.86 238.50" fill="none" stroke="#383838" stroke-width="0.7" stroke-linecap="round" stroke-linejoin="round"/>
<path d="M546.31 231.99Q538.77 226.27 534.50 234.72" fill="none" stroke="#383838" stroke-width="0.7" stroke-dasharray="1.9 1.4"/>
<path d="M549.49 231.99Q557.03 226.27 561.30 234.72" fill="none" stroke="#383838" stroke-width="0.7" stroke-dasharray="1.9 1.4"/>
<circle cx="547.90" cy="193.70" r="2.0" fill="#d4123f"/>
<circle cx="547.90" cy="233.20" r="2.0" fill="#1f1a1b"/>
<circle cx="533.60" cy="236.50" r="2.0" fill="#d4123f"/>
<circle cx="562.20" cy="236.50" r="2.0" fill="#d4123f"/>
<circle cx="523.80" cy="235.60" r="2.0" fill="#1b75bc"/>
<circle cx="572.10" cy="235.60" r="2.0" fill="#1b75bc"/>
<path d="M612.00 262.90L612.00 243.50" fill="none" stroke="#bdbdbd" stroke-width="1.5"/>
<path d="M612.97 245.80L612.00 243.50L611.03 245.80" fill="none" stroke="#383838" stroke-width="0.8" stroke-linecap="round" stroke-linejoin="round"/>
<path d="M618.58 265.62L643.42 240.78" fill="none" stroke="#383838" stroke-width="0.8"/>
<path d="M642.48 243.09L643.42 240.78L641.11 241.72" fill="none" stroke="#383838" stroke-width="0.8" stroke-linecap="round" stroke-linejoin="round"/>
<path d="M620.31 268.03L679.39 238.37" fill="none" stroke="#383838" stroke-width="0.8"/>
<path d="M677.77 240.27L679.39 238.37L676.90 238.54" fill="none" stroke="#383838" stroke-width="0.8" stroke-linecap="round" stroke-linejoin="round"/>
<path d="M679.39 268.03L620.31 238.37" fill="none" stroke="#383838" stroke-width="0.8"/>
<path d="M622.80 238.54L620.31 238.37L621.93 240.27" fill="none" stroke="#383838" stroke-width="0.8" stroke-linecap="round" stroke-linejoin="round"/>
<path d="M681.15 265.60L656.55 240.80" fill="none" stroke="#383838" stroke-width="0.8"/>
<path d="M658.86 241.75L656.55 240.80L657.48 243.12" fill="none" stroke="#383838" stroke-width="0.8" stroke-linecap="round" stroke-linejoin="round"/>
<path d="M687.70 262.90L687.70 243.50" fill="none" stroke="#383838" stroke-width="0.8"/>
<path d="M688.67 245.80L687.70 243.50L686.73 245.80" fill="none" stroke="#383838" stroke-width="0.8" stroke-linecap="round" stroke-linejoin="round"/>
<path d="M618.61 227.66L643.39 203.14" fill="none" stroke="#383838" stroke-width="0.8"/>
<path d="M642.43 205.45L643.39 203.14L641.07 204.07" fill="none" stroke="#383838" stroke-width="0.8" stroke-linecap="round" stroke-linejoin="round"/>
<path d="M650.00 224.90L650.00 205.90" fill="none" stroke="#383838" stroke-width="0.8"/>
<path d="M650.97 208.20L650.00 205.90L649.03 208.20" fill="none" stroke="#383838" stroke-width="0.8" stroke-linecap="round" stroke-linejoin="round"/>
<path d="M681.12 227.63L656.58 203.17" fill="none" stroke="#383838" stroke-width="0.8"/>
<path d="M658.90 204.11L656.58 203.17L657.53 205.48" fill="none" stroke="#383838" stroke-width="0.8" stroke-linecap="round" stroke-linejoin="round"/>
<path d="M640.70 197.00C624.00 197.00 612.00 208.00 611.80 224.80" fill="none" stroke="#383838" stroke-width="0.8" stroke-dasharray="1.9 1.4"/>
<path d="M610.86 222.49L611.80 224.80L612.79 222.51" fill="none" stroke="#383838" stroke-width="0.8" stroke-linecap="round" stroke-linejoin="round"/>
<path d="M659.00 197.00C675.70 197.00 687.70 208.00 687.90 224.80" fill="none" stroke="#383838" stroke-width="0.8" stroke-dasharray="1.9 1.4"/>
<path d="M686.91 222.51L687.90 224.80L688.84 222.49" fill="none" stroke="#383838" stroke-width="0.8" stroke-linecap="round" stroke-linejoin="round"/>
<path d="M653.00 205.50C657.00 211.00 657.00 219.00 652.30 225.20" fill="none" stroke="#383838" stroke-width="0.8" stroke-dasharray="1.9 1.4"/>
<path d="M652.92 222.78L652.30 225.20L654.46 223.95" fill="none" stroke="#383838" stroke-width="0.8" stroke-linecap="round" stroke-linejoin="round"/>
<path d="M604.20 239.60C593.00 247.00 592.00 268.00 602.70 272.20" fill="none" stroke="#383838" stroke-width="0.8" stroke-dasharray="1.9 1.4"/>
<path d="M600.21 272.26L602.70 272.20L600.91 270.46" fill="none" stroke="#383838" stroke-width="0.8" stroke-linecap="round" stroke-linejoin="round"/>
<path d="M695.50 239.60C706.70 247.00 707.70 268.00 697.00 272.20" fill="none" stroke="#383838" stroke-width="0.8" stroke-dasharray="1.9 1.4"/>
<path d="M698.79 270.46L697.00 272.20L699.49 272.26" fill="none" stroke="#383838" stroke-width="0.8" stroke-linecap="round" stroke-linejoin="round"/>
<path d="M640.80 235.00C628.00 238.00 618.00 250.00 615.30 263.20" fill="none" stroke="#383838" stroke-width="0.8" stroke-dasharray="1.9 1.4"/>
<path d="M614.81 260.75L615.30 263.20L616.71 261.14" fill="none" stroke="#383838" stroke-width="0.8" stroke-linecap="round" stroke-linejoin="round"/>
<path d="M658.90 235.00C671.70 238.00 681.70 250.00 684.40 263.20" fill="none" stroke="#383838" stroke-width="0.8" stroke-dasharray="1.9 1.4"/>
<path d="M682.99 261.14L684.40 263.20L684.89 260.75" fill="none" stroke="#383838" stroke-width="0.8" stroke-linecap="round" stroke-linejoin="round"/>
<path d="M615.50 242.80C622.00 268.00 650.00 283.00 680.40 277.60" fill="none" stroke="#383838" stroke-width="0.8" stroke-dasharray="1.9 1.4"/>
<path d="M678.30 278.95L680.40 277.60L677.97 277.05" fill="none" stroke="#383838" stroke-width="0.8" stroke-linecap="round" stroke-linejoin="round"/>
<path d="M684.20 242.80C677.70 268.00 649.70 283.00 619.30 277.60" fill="none" stroke="#383838" stroke-width="0.8" stroke-dasharray="1.9 1.4"/>
<path d="M621.73 277.05L619.30 277.60L621.40 278.95" fill="none" stroke="#383838" stroke-width="0.8" stroke-linecap="round" stroke-linejoin="round"/>
<circle cx="650.00" cy="196.60" r="9.3" fill="#1f1a1b"/>
<text x="650.00" y="199.60" font-size="8.4" text-anchor="middle" fill="#fff" textLength="13.8" lengthAdjust="spacingAndGlyphs" >MC</text>
<circle cx="612.00" cy="234.20" r="9.3" fill="#d4123f"/>
<text x="612.00" y="237.20" font-size="8.4" text-anchor="middle" fill="#fff" textLength="16.4" lengthAdjust="spacingAndGlyphs" >LHP</text>
<circle cx="650.00" cy="234.20" r="9.3" fill="#d4123f"/>
<text x="650.00" y="237.20" font-size="8.4" text-anchor="middle" fill="#fff" textLength="17.3" lengthAdjust="spacingAndGlyphs" >ACC</text>
<circle cx="687.70" cy="234.20" r="9.3" fill="#d4123f"/>
<text x="687.70" y="237.20" font-size="8.4" text-anchor="middle" fill="#fff" textLength="17.1" lengthAdjust="spacingAndGlyphs" >RHP</text>
<circle cx="612.00" cy="272.20" r="9.3" fill="#1b75bc"/>
<text x="612.00" y="275.20" font-size="8.4" text-anchor="middle" fill="#fff" textLength="17.3" lengthAdjust="spacingAndGlyphs" >LHG</text>
<circle cx="687.70" cy="272.20" r="9.3" fill="#1b75bc"/>
<text x="687.70" y="275.20" font-size="8.4" text-anchor="middle" fill="#fff" textLength="18.3" lengthAdjust="spacingAndGlyphs" >RHG</text>
<text x="118.80" y="42.70" font-size="10.3" text-anchor="middle" fill="#111" textLength="36.4" lengthAdjust="spacingAndGlyphs" >Model 1</text>
<text x="357.80" y="42.70" font-size="10.3" text-anchor="middle" fill="#111" textLength="36.4" lengthAdjust="spacingAndGlyphs" >Model 2</text>
<text x="597.20" y="43.20" font-size="10.3" text-anchor="middle" fill="#111" textLength="36.4" lengthAdjust="spacingAndGlyphs" >Model 3</text>
<text x="118.80" y="171.60" font-size="10.3" text-anchor="middle" fill="#111" textLength="36.4" lengthAdjust="spacingAndGlyphs" >Model 4</text>
<text x="358.00" y="172.50" font-size="10.3" text-anchor="middle" fill="#111" textLength="36.4" lengthAdjust="spacingAndGlyphs" >Model 5</text>
<text x="605.90" y="172.50" font-size="10.3" text-anchor="middle" fill="#111" textLength="36.4" lengthAdjust="spacingAndGlyphs" >Model 6</text>
<path d="M632 5.3H646" stroke="#383838" stroke-width="0.6" fill="none"/>
<path d="M643.60 6.31L646.00 5.30L643.60 4.29" fill="none" stroke="#383838" stroke-width="0.8" stroke-linecap="round" stroke-linejoin="round"/>
<path d="M633.5 19.6H645" stroke="#383838" stroke-width="0.6" fill="none" stroke-dasharray="1.9 1.4"/>
<path d="M634.70 18.59L632.30 19.60L634.70 20.61" fill="none" stroke="#383838" stroke-width="0.8" stroke-linecap="round" stroke-linejoin="round"/>
<text x="1.50" y="8.70" font-size="12" text-anchor="start" fill="#000" font-weight="bold" stroke="#000" stroke-width="0.45" stroke-linejoin="round" textLength="5.9" lengthAdjust="spacingAndGlyphs" >a</text>
<text x="2.10" y="314.90" font-size="12" text-anchor="start" fill="#000" font-weight="bold" stroke="#000" stroke-width="0.45" stroke-linejoin="round" textLength="6.1" lengthAdjust="spacingAndGlyphs" >b</text>
<text x="2.10" y="662.90" font-size="12" text-anchor="start" fill="#000" font-weight="bold" stroke="#000" stroke-width="0.45" stroke-linejoin="round" textLength="6.1" lengthAdjust="spacingAndGlyphs" >c</text>
<text x="343.95" y="8.50" font-size="11.4" text-anchor="middle" fill="#000" font-weight="bold" stroke="#000" stroke-width="0.45" stroke-linejoin="round" textLength="135.3" lengthAdjust="spacingAndGlyphs" >Dynamic causal modelling</text>
<text x="348.40" y="314.60" font-size="11.6" text-anchor="middle" fill="#000" font-weight="bold" stroke="#000" stroke-width="0.45" stroke-linejoin="round" textLength="56.8" lengthAdjust="spacingAndGlyphs" >Memorised</text>
<text x="348.30" y="662.40" font-size="11.6" text-anchor="middle" fill="#000" font-weight="bold" stroke="#000" stroke-width="0.45" stroke-linejoin="round" textLength="27.8" lengthAdjust="spacingAndGlyphs" >Novel</text>
<text x="348.40" y="335.20" font-size="10.3" text-anchor="middle" fill="#222" textLength="90.6" lengthAdjust="spacingAndGlyphs" >Posterior probability</text>
<text x="348.40" y="680.00" font-size="10.3" text-anchor="middle" fill="#222" textLength="90.6" lengthAdjust="spacingAndGlyphs" >Posterior probability</text>
<text x="348.40" y="503.90" font-size="10.3" text-anchor="middle" fill="#222" textLength="153.9" lengthAdjust="spacingAndGlyphs" >Protected exceedance probability</text>
<text x="348.40" y="856.50" font-size="10.3" text-anchor="middle" fill="#222" textLength="153.9" lengthAdjust="spacingAndGlyphs" >Protected exceedance probability</text>
<text x="653.20" y="7.90" font-size="10.3" text-anchor="start" fill="#222" textLength="57.6" lengthAdjust="spacingAndGlyphs" >Feedforward</text>
<text x="653.20" y="22.60" font-size="10.3" text-anchor="start" fill="#222" textLength="45.4" lengthAdjust="spacingAndGlyphs" >Backward</text>
<rect x="42.34" y="424.79" width="17.00" height="48.51" fill="#000" stroke="#000" stroke-width="0.6"/>
<rect x="64.74" y="470.38" width="14.70" height="2.92" fill="#d3d3d3" stroke="#4a4a4a" stroke-width="0.6"/>
<rect x="85.98" y="450.50" width="14.70" height="22.80" fill="#d3d3d3" stroke="#4a4a4a" stroke-width="0.6"/>
<rect x="107.22" y="456.93" width="14.70" height="16.37" fill="#d3d3d3" stroke="#4a4a4a" stroke-width="0.6"/>
<rect x="128.46" y="462.19" width="14.70" height="11.11" fill="#d3d3d3" stroke="#4a4a4a" stroke-width="0.6"/>
<rect x="149.71" y="456.93" width="14.70" height="16.37" fill="#d3d3d3" stroke="#4a4a4a" stroke-width="0.6"/>
<rect x="29.60" y="356.40" width="148.70" height="116.90" fill="none" stroke="#555" stroke-width="0.7"/>
<path d="M29.60 473.30h2.2M178.30 473.30h-2.2M29.60 461.61h1.7M178.30 461.61h-1.7M29.60 449.92h2.2M178.30 449.92h-2.2M29.60 438.23h1.7M178.30 438.23h-1.7M29.60 426.54h2.2M178.30 426.54h-2.2M29.60 414.85h1.7M178.30 414.85h-1.7M29.60 403.16h2.2M178.30 403.16h-2.2M29.60 391.47h1.7M178.30 391.47h-1.7M29.60 379.78h2.2M178.30 379.78h-2.2M29.60 368.09h1.7M178.30 368.09h-1.7M29.60 356.40h2.2M178.30 356.40h-2.2M50.84 473.30v-1.8M50.84 356.40v1.8M72.09 473.30v-1.8M72.09 356.40v1.8M93.33 473.30v-1.8M93.33 356.40v1.8M114.57 473.30v-1.8M114.57 356.40v1.8M135.81 473.30v-1.8M135.81 356.40v1.8M157.06 473.30v-1.8M157.06 356.40v1.8" stroke="#555" stroke-width="0.6" fill="none"/>
<text x="27.70" y="476.40" font-size="8.7" text-anchor="end" fill="#4d4d4d" >0</text>
<text x="27.70" y="453.02" font-size="8.7" text-anchor="end" fill="#4d4d4d" >0.2</text>
<text x="27.70" y="429.64" font-size="8.7" text-anchor="end" fill="#4d4d4d" >0.4</text>
<text x="27.70" y="406.26" font-size="8.7" text-anchor="end" fill="#4d4d4d" >0.6</text>
<text x="27.70" y="382.88" font-size="8.7" text-anchor="end" fill="#4d4d4d" >0.8</text>
<text x="27.70" y="359.50" font-size="8.7" text-anchor="end" fill="#4d4d4d" >1</text>
<text x="50.34" y="483.30" font-size="8.7" text-anchor="middle" fill="#4d4d4d" >1</text>
<text x="72.09" y="483.30" font-size="8.7" text-anchor="middle" fill="#4d4d4d" >2</text>
<text x="93.33" y="483.30" font-size="8.7" text-anchor="middle" fill="#4d4d4d" >3</text>
<text x="114.57" y="483.30" font-size="8.7" text-anchor="middle" fill="#4d4d4d" >4</text>
<text x="135.81" y="483.30" font-size="8.7" text-anchor="middle" fill="#4d4d4d" >5</text>
<text x="157.06" y="483.30" font-size="8.7" text-anchor="middle" fill="#4d4d4d" >6</text>
<text x="104.05" y="352.60" font-size="10.3" text-anchor="middle" fill="#222" textLength="29.7" lengthAdjust="spacingAndGlyphs" >Tone 2</text>
<text x="108.35" y="492.60" font-size="8.7" text-anchor="middle" fill="#4d4d4d" textLength="28" lengthAdjust="spacingAndGlyphs" >Models</text>
<text transform="translate(6.3 414.85) rotate(-90)" font-size="8.7" text-anchor="middle" fill="#4d4d4d" textLength="39.7" lengthAdjust="spacingAndGlyphs">Probability</text>
<rect x="42.34" y="512.00" width="17.00" height="116.10" fill="#000" stroke="#000" stroke-width="0.6"/>
<rect x="85.98" y="627.52" width="14.70" height="0.58" fill="#d3d3d3" stroke="#4a4a4a" stroke-width="0.6"/>
<rect x="107.22" y="627.87" width="14.70" height="0.23" fill="#d3d3d3" stroke="#4a4a4a" stroke-width="0.6"/>
<rect x="128.46" y="627.98" width="14.70" height="0.12" fill="#d3d3d3" stroke="#4a4a4a" stroke-width="0.6"/>
<rect x="149.71" y="627.87" width="14.70" height="0.23" fill="#d3d3d3" stroke="#4a4a4a" stroke-width="0.6"/>
<rect x="29.60" y="512.00" width="148.70" height="116.10" fill="none" stroke="#555" stroke-width="0.7"/>
<path d="M29.60 628.10h2.2M178.30 628.10h-2.2M29.60 616.49h1.7M178.30 616.49h-1.7M29.60 604.88h2.2M178.30 604.88h-2.2M29.60 593.27h1.7M178.30 593.27h-1.7M29.60 581.66h2.2M178.30 581.66h-2.2M29.60 570.05h1.7M178.30 570.05h-1.7M29.60 558.44h2.2M178.30 558.44h-2.2M29.60 546.83h1.7M178.30 546.83h-1.7M29.60 535.22h2.2M178.30 535.22h-2.2M29.60 523.61h1.7M178.30 523.61h-1.7M29.60 512.00h2.2M178.30 512.00h-2.2M50.84 628.10v-1.8M50.84 512.00v1.8M72.09 628.10v-1.8M72.09 512.00v1.8M93.33 628.10v-1.8M93.33 512.00v1.8M114.57 628.10v-1.8M114.57 512.00v1.8M135.81 628.10v-1.8M135.81 512.00v1.8M157.06 628.10v-1.8M157.06 512.00v1.8" stroke="#555" stroke-width="0.6" fill="none"/>
<text x="27.70" y="631.20" font-size="8.7" text-anchor="end" fill="#4d4d4d" >0</text>
<text x="27.70" y="607.98" font-size="8.7" text-anchor="end" fill="#4d4d4d" >0.2</text>
<text x="27.70" y="584.76" font-size="8.7" text-anchor="end" fill="#4d4d4d" >0.4</text>
<text x="27.70" y="561.54" font-size="8.7" text-anchor="end" fill="#4d4d4d" >0.6</text>
<text x="27.70" y="538.32" font-size="8.7" text-anchor="end" fill="#4d4d4d" >0.8</text>
<text x="27.70" y="515.10" font-size="8.7" text-anchor="end" fill="#4d4d4d" >1</text>
<text x="50.34" y="638.10" font-size="8.7" text-anchor="middle" fill="#4d4d4d" >1</text>
<text x="72.09" y="638.10" font-size="8.7" text-anchor="middle" fill="#4d4d4d" >2</text>
<text x="93.33" y="638.10" font-size="8.7" text-anchor="middle" fill="#4d4d4d" >3</text>
<text x="114.57" y="638.10" font-size="8.7" text-anchor="middle" fill="#4d4d4d" >4</text>
<text x="135.81" y="638.10" font-size="8.7" text-anchor="middle" fill="#4d4d4d" >5</text>
<text x="157.06" y="638.10" font-size="8.7" text-anchor="middle" fill="#4d4d4d" >6</text>
<text x="172.10" y="524.50" font-size="8.7" text-anchor="end" fill="#4d4d4d" textLength="63.4" lengthAdjust="spacingAndGlyphs" >BOR = 2.91e-07</text>
<text x="108.35" y="647.40" font-size="8.7" text-anchor="middle" fill="#4d4d4d" textLength="28" lengthAdjust="spacingAndGlyphs" >Models</text>
<text transform="translate(6.3 570.05) rotate(-90)" font-size="8.7" text-anchor="middle" fill="#4d4d4d" textLength="39.7" lengthAdjust="spacingAndGlyphs">Probability</text>
<rect x="42.34" y="772.56" width="17.00" height="50.94" fill="#000" stroke="#000" stroke-width="0.6"/>
<rect x="64.74" y="822.09" width="14.70" height="1.41" fill="#d3d3d3" stroke="#4a4a4a" stroke-width="0.6"/>
<rect x="85.98" y="790.71" width="14.70" height="32.79" fill="#d3d3d3" stroke="#4a4a4a" stroke-width="0.6"/>
<rect x="107.22" y="811.79" width="14.70" height="11.71" fill="#d3d3d3" stroke="#4a4a4a" stroke-width="0.6"/>
<rect x="128.46" y="816.47" width="14.70" height="7.03" fill="#d3d3d3" stroke="#4a4a4a" stroke-width="0.6"/>
<rect x="149.71" y="810.62" width="14.70" height="12.88" fill="#d3d3d3" stroke="#4a4a4a" stroke-width="0.6"/>
<rect x="29.60" y="706.40" width="148.70" height="117.10" fill="none" stroke="#555" stroke-width="0.7"/>
<path d="M29.60 823.50h2.2M178.30 823.50h-2.2M29.60 811.79h1.7M178.30 811.79h-1.7M29.60 800.08h2.2M178.30 800.08h-2.2M29.60 788.37h1.7M178.30 788.37h-1.7M29.60 776.66h2.2M178.30 776.66h-2.2M29.60 764.95h1.7M178.30 764.95h-1.7M29.60 753.24h2.2M178.30 753.24h-2.2M29.60 741.53h1.7M178.30 741.53h-1.7M29.60 729.82h2.2M178.30 729.82h-2.2M29.60 718.11h1.7M178.30 718.11h-1.7M29.60 706.40h2.2M178.30 706.40h-2.2M50.84 823.50v-1.8M50.84 706.40v1.8M72.09 823.50v-1.8M72.09 706.40v1.8M93.33 823.50v-1.8M93.33 706.40v1.8M114.57 823.50v-1.8M114.57 706.40v1.8M135.81 823.50v-1.8M135.81 706.40v1.8M157.06 823.50v-1.8M157.06 706.40v1.8" stroke="#555" stroke-width="0.6" fill="none"/>
<text x="27.70" y="826.60" font-size="8.7" text-anchor="end" fill="#4d4d4d" >0</text>
<text x="27.70" y="803.18" font-size="8.7" text-anchor="end" fill="#4d4d4d" >0.2</text>
<text x="27.70" y="779.76" font-size="8.7" text-anchor="end" fill="#4d4d4d" >0.4</text>
<text x="27.70" y="756.34" font-size="8.7" text-anchor="end" fill="#4d4d4d" >0.6</text>
<text x="27.70" y="732.92" font-size="8.7" text-anchor="end" fill="#4d4d4d" >0.8</text>
<text x="27.70" y="709.50" font-size="8.7" text-anchor="end" fill="#4d4d4d" >1</text>
<text x="50.34" y="833.50" font-size="8.7" text-anchor="middle" fill="#4d4d4d" >1</text>
<text x="72.09" y="833.50" font-size="8.7" text-anchor="middle" fill="#4d4d4d" >2</text>
<text x="93.33" y="833.50" font-size="8.7" text-anchor="middle" fill="#4d4d4d" >3</text>
<text x="114.57" y="833.50" font-size="8.7" text-anchor="middle" fill="#4d4d4d" >4</text>
<text x="135.81" y="833.50" font-size="8.7" text-anchor="middle" fill="#4d4d4d" >5</text>
<text x="157.06" y="833.50" font-size="8.7" text-anchor="middle" fill="#4d4d4d" >6</text>
<text x="103.35" y="700.90" font-size="10.3" text-anchor="middle" fill="#222" textLength="58.4" lengthAdjust="spacingAndGlyphs" >Tone 2 - NT1</text>
<text x="108.35" y="842.80" font-size="8.7" text-anchor="middle" fill="#4d4d4d" textLength="28" lengthAdjust="spacingAndGlyphs" >Models</text>
<text transform="translate(6.3 764.95) rotate(-90)" font-size="8.7" text-anchor="middle" fill="#4d4d4d" textLength="39.7" lengthAdjust="spacingAndGlyphs">Probability</text>
<rect x="42.34" y="870.62" width="17.00" height="110.88" fill="#000" stroke="#000" stroke-width="0.6"/>
<rect x="64.74" y="981.38" width="14.70" height="0.12" fill="#d3d3d3" stroke="#4a4a4a" stroke-width="0.6"/>
<rect x="85.98" y="976.28" width="14.70" height="5.22" fill="#d3d3d3" stroke="#4a4a4a" stroke-width="0.6"/>
<rect x="107.22" y="981.27" width="14.70" height="0.23" fill="#d3d3d3" stroke="#4a4a4a" stroke-width="0.6"/>
<rect x="128.46" y="981.38" width="14.70" height="0.12" fill="#d3d3d3" stroke="#4a4a4a" stroke-width="0.6"/>
<rect x="149.71" y="981.27" width="14.70" height="0.23" fill="#d3d3d3" stroke="#4a4a4a" stroke-width="0.6"/>
<rect x="29.60" y="865.40" width="148.70" height="116.10" fill="none" stroke="#555" stroke-width="0.7"/>
<path d="M29.60 981.50h2.2M178.30 981.50h-2.2M29.60 969.89h1.7M178.30 969.89h-1.7M29.60 958.28h2.2M178.30 958.28h-2.2M29.60 946.67h1.7M178.30 946.67h-1.7M29.60 935.06h2.2M178.30 935.06h-2.2M29.60 923.45h1.7M178.30 923.45h-1.7M29.60 911.84h2.2M178.30 911.84h-2.2M29.60 900.23h1.7M178.30 900.23h-1.7M29.60 888.62h2.2M178.30 888.62h-2.2M29.60 877.01h1.7M178.30 877.01h-1.7M29.60 865.40h2.2M178.30 865.40h-2.2M50.84 981.50v-1.8M50.84 865.40v1.8M72.09 981.50v-1.8M72.09 865.40v1.8M93.33 981.50v-1.8M93.33 865.40v1.8M114.57 981.50v-1.8M114.57 865.40v1.8M135.81 981.50v-1.8M135.81 865.40v1.8M157.06 981.50v-1.8M157.06 865.40v1.8" stroke="#555" stroke-width="0.6" fill="none"/>
<text x="27.70" y="984.60" font-size="8.7" text-anchor="end" fill="#4d4d4d" >0</text>
<text x="27.70" y="961.38" font-size="8.7" text-anchor="end" fill="#4d4d4d" >0.2</text>
<text x="27.70" y="938.16" font-size="8.7" text-anchor="end" fill="#4d4d4d" >0.4</text>
<text x="27.70" y="914.94" font-size="8.7" text-anchor="end" fill="#4d4d4d" >0.6</text>
<text x="27.70" y="891.72" font-size="8.7" text-anchor="end" fill="#4d4d4d" >0.8</text>
<text x="27.70" y="868.50" font-size="8.7" text-anchor="end" fill="#4d4d4d" >1</text>
<text x="50.34" y="991.50" font-size="8.7" text-anchor="middle" fill="#4d4d4d" >1</text>
<text x="72.09" y="991.50" font-size="8.7" text-anchor="middle" fill="#4d4d4d" >2</text>
<text x="93.33" y="991.50" font-size="8.7" text-anchor="middle" fill="#4d4d4d" >3</text>
<text x="114.57" y="991.50" font-size="8.7" text-anchor="middle" fill="#4d4d4d" >4</text>
<text x="135.81" y="991.50" font-size="8.7" text-anchor="middle" fill="#4d4d4d" >5</text>
<text x="157.06" y="991.50" font-size="8.7" text-anchor="middle" fill="#4d4d4d" >6</text>
<text x="172.10" y="877.90" font-size="8.7" text-anchor="end" fill="#4d4d4d" textLength="63.4" lengthAdjust="spacingAndGlyphs" >BOR = 4.49e-12</text>
<text x="108.35" y="1000.10" font-size="8.7" text-anchor="middle" fill="#4d4d4d" textLength="28" lengthAdjust="spacingAndGlyphs" >Models</text>
<text transform="translate(6.3 923.45) rotate(-90)" font-size="8.7" text-anchor="middle" fill="#4d4d4d" textLength="39.7" lengthAdjust="spacingAndGlyphs">Probability</text>
<rect x="215.84" y="434.72" width="17.00" height="38.58" fill="#000" stroke="#000" stroke-width="0.6"/>
<rect x="238.24" y="469.21" width="14.70" height="4.09" fill="#d3d3d3" stroke="#4a4a4a" stroke-width="0.6"/>
<rect x="259.48" y="444.07" width="14.70" height="29.23" fill="#d3d3d3" stroke="#4a4a4a" stroke-width="0.6"/>
<rect x="280.72" y="454.60" width="14.70" height="18.70" fill="#d3d3d3" stroke="#4a4a4a" stroke-width="0.6"/>
<rect x="301.96" y="460.44" width="14.70" height="12.86" fill="#d3d3d3" stroke="#4a4a4a" stroke-width="0.6"/>
<rect x="323.21" y="459.27" width="14.70" height="14.03" fill="#d3d3d3" stroke="#4a4a4a" stroke-width="0.6"/>
<rect x="203.10" y="356.40" width="148.70" height="116.90" fill="none" stroke="#555" stroke-width="0.7"/>
<path d="M203.10 473.30h2.2M351.80 473.30h-2.2M203.10 461.61h1.7M351.80 461.61h-1.7M203.10 449.92h2.2M351.80 449.92h-2.2M203.10 438.23h1.7M351.80 438.23h-1.7M203.10 426.54h2.2M351.80 426.54h-2.2M203.10 414.85h1.7M351.80 414.85h-1.7M203.10 403.16h2.2M351.80 403.16h-2.2M203.10 391.47h1.7M351.80 391.47h-1.7M203.10 379.78h2.2M351.80 379.78h-2.2M203.10 368.09h1.7M351.80 368.09h-1.7M203.10 356.40h2.2M351.80 356.40h-2.2M224.34 473.30v-1.8M224.34 356.40v1.8M245.59 473.30v-1.8M245.59 356.40v1.8M266.83 473.30v-1.8M266.83 356.40v1.8M288.07 473.30v-1.8M288.07 356.40v1.8M309.31 473.30v-1.8M309.31 356.40v1.8M330.56 473.30v-1.8M330.56 356.40v1.8" stroke="#555" stroke-width="0.6" fill="none"/>
<text x="201.20" y="476.40" font-size="8.7" text-anchor="end" fill="#4d4d4d" >0</text>
<text x="201.20" y="453.02" font-size="8.7" text-anchor="end" fill="#4d4d4d" >0.2</text>
<text x="201.20" y="429.64" font-size="8.7" text-anchor="end" fill="#4d4d4d" >0.4</text>
<text x="201.20" y="406.26" font-size="8.7" text-anchor="end" fill="#4d4d4d" >0.6</text>
<text x="201.20" y="382.88" font-size="8.7" text-anchor="end" fill="#4d4d4d" >0.8</text>
<text x="201.20" y="359.50" font-size="8.7" text-anchor="end" fill="#4d4d4d" >1</text>
<text x="223.84" y="483.30" font-size="8.7" text-anchor="middle" fill="#4d4d4d" >1</text>
<text x="245.59" y="483.30" font-size="8.7" text-anchor="middle" fill="#4d4d4d" >2</text>
<text x="266.83" y="483.30" font-size="8.7" text-anchor="middle" fill="#4d4d4d" >3</text>
<text x="288.07" y="483.30" font-size="8.7" text-anchor="middle" fill="#4d4d4d" >4</text>
<text x="309.31" y="483.30" font-size="8.7" text-anchor="middle" fill="#4d4d4d" >5</text>
<text x="330.56" y="483.30" font-size="8.7" text-anchor="middle" fill="#4d4d4d" >6</text>
<text x="277.55" y="352.60" font-size="10.3" text-anchor="middle" fill="#222" textLength="29.7" lengthAdjust="spacingAndGlyphs" >Tone 3</text>
<rect x="215.84" y="531.74" width="17.00" height="96.36" fill="#000" stroke="#000" stroke-width="0.6"/>
<rect x="238.24" y="627.87" width="14.70" height="0.23" fill="#d3d3d3" stroke="#4a4a4a" stroke-width="0.6"/>
<rect x="259.48" y="609.52" width="14.70" height="18.58" fill="#d3d3d3" stroke="#4a4a4a" stroke-width="0.6"/>
<rect x="280.72" y="627.17" width="14.70" height="0.93" fill="#d3d3d3" stroke="#4a4a4a" stroke-width="0.6"/>
<rect x="301.96" y="627.75" width="14.70" height="0.35" fill="#d3d3d3" stroke="#4a4a4a" stroke-width="0.6"/>
<rect x="323.21" y="627.75" width="14.70" height="0.35" fill="#d3d3d3" stroke="#4a4a4a" stroke-width="0.6"/>
<rect x="203.10" y="512.00" width="148.70" height="116.10" fill="none" stroke="#555" stroke-width="0.7"/>
<path d="M203.10 628.10h2.2M351.80 628.10h-2.2M203.10 616.49h1.7M351.80 616.49h-1.7M203.10 604.88h2.2M351.80 604.88h-2.2M203.10 593.27h1.7M351.80 593.27h-1.7M203.10 581.66h2.2M351.80 581.66h-2.2M203.10 570.05h1.7M351.80 570.05h-1.7M203.10 558.44h2.2M351.80 558.44h-2.2M203.10 546.83h1.7M351.80 546.83h-1.7M203.10 535.22h2.2M351.80 535.22h-2.2M203.10 523.61h1.7M351.80 523.61h-1.7M203.10 512.00h2.2M351.80 512.00h-2.2M224.34 628.10v-1.8M224.34 512.00v1.8M245.59 628.10v-1.8M245.59 512.00v1.8M266.83 628.10v-1.8M266.83 512.00v1.8M288.07 628.10v-1.8M288.07 512.00v1.8M309.31 628.10v-1.8M309.31 512.00v1.8M330.56 628.10v-1.8M330.56 512.00v1.8" stroke="#555" stroke-width="0.6" fill="none"/>
<text x="201.20" y="631.20" font-size="8.7" text-anchor="end" fill="#4d4d4d" >0</text>
<text x="201.20" y="607.98" font-size="8.7" text-anchor="end" fill="#4d4d4d" >0.2</text>
<text x="201.20" y="584.76" font-size="8.7" text-anchor="end" fill="#4d4d4d" >0.4</text>
<text x="201.20" y="561.54" font-size="8.7" text-anchor="end" fill="#4d4d4d" >0.6</text>
<text x="201.20" y="538.32" font-size="8.7" text-anchor="end" fill="#4d4d4d" >0.8</text>
<text x="201.20" y="515.10" font-size="8.7" text-anchor="end" fill="#4d4d4d" >1</text>
<text x="223.84" y="638.10" font-size="8.7" text-anchor="middle" fill="#4d4d4d" >1</text>
<text x="245.59" y="638.10" font-size="8.7" text-anchor="middle" fill="#4d4d4d" >2</text>
<text x="266.83" y="638.10" font-size="8.7" text-anchor="middle" fill="#4d4d4d" >3</text>
<text x="288.07" y="638.10" font-size="8.7" text-anchor="middle" fill="#4d4d4d" >4</text>
<text x="309.31" y="638.10" font-size="8.7" text-anchor="middle" fill="#4d4d4d" >5</text>
<text x="330.56" y="638.10" font-size="8.7" text-anchor="middle" fill="#4d4d4d" >6</text>
<text x="345.60" y="524.50" font-size="8.7" text-anchor="end" fill="#4d4d4d" textLength="63.4" lengthAdjust="spacingAndGlyphs" >BOR = 4.33e-04</text>
<rect x="215.84" y="786.03" width="17.00" height="37.47" fill="#000" stroke="#000" stroke-width="0.6"/>
<rect x="238.24" y="818.82" width="14.70" height="4.68" fill="#d3d3d3" stroke="#4a4a4a" stroke-width="0.6"/>
<rect x="259.48" y="801.25" width="14.70" height="22.25" fill="#d3d3d3" stroke="#4a4a4a" stroke-width="0.6"/>
<rect x="280.72" y="810.62" width="14.70" height="12.88" fill="#d3d3d3" stroke="#4a4a4a" stroke-width="0.6"/>
<rect x="301.96" y="802.42" width="14.70" height="21.08" fill="#d3d3d3" stroke="#4a4a4a" stroke-width="0.6"/>
<rect x="323.21" y="805.93" width="14.70" height="17.57" fill="#d3d3d3" stroke="#4a4a4a" stroke-width="0.6"/>
<rect x="203.10" y="706.40" width="148.70" height="117.10" fill="none" stroke="#555" stroke-width="0.7"/>
<path d="M203.10 823.50h2.2M351.80 823.50h-2.2M203.10 811.79h1.7M351.80 811.79h-1.7M203.10 800.08h2.2M351.80 800.08h-2.2M203.10 788.37h1.7M351.80 788.37h-1.7M203.10 776.66h2.2M351.80 776.66h-2.2M203.10 764.95h1.7M351.80 764.95h-1.7M203.10 753.24h2.2M351.80 753.24h-2.2M203.10 741.53h1.7M351.80 741.53h-1.7M203.10 729.82h2.2M351.80 729.82h-2.2M203.10 718.11h1.7M351.80 718.11h-1.7M203.10 706.40h2.2M351.80 706.40h-2.2M224.34 823.50v-1.8M224.34 706.40v1.8M245.59 823.50v-1.8M245.59 706.40v1.8M266.83 823.50v-1.8M266.83 706.40v1.8M288.07 823.50v-1.8M288.07 706.40v1.8M309.31 823.50v-1.8M309.31 706.40v1.8M330.56 823.50v-1.8M330.56 706.40v1.8" stroke="#555" stroke-width="0.6" fill="none"/>
<text x="201.20" y="826.60" font-size="8.7" text-anchor="end" fill="#4d4d4d" >0</text>
<text x="201.20" y="803.18" font-size="8.7" text-anchor="end" fill="#4d4d4d" >0.2</text>
<text x="201.20" y="779.76" font-size="8.7" text-anchor="end" fill="#4d4d4d" >0.4</text>
<text x="201.20" y="756.34" font-size="8.7" text-anchor="end" fill="#4d4d4d" >0.6</text>
<text x="201.20" y="732.92" font-size="8.7" text-anchor="end" fill="#4d4d4d" >0.8</text>
<text x="201.20" y="709.50" font-size="8.7" text-anchor="end" fill="#4d4d4d" >1</text>
<text x="223.84" y="833.50" font-size="8.7" text-anchor="middle" fill="#4d4d4d" >1</text>
<text x="245.59" y="833.50" font-size="8.7" text-anchor="middle" fill="#4d4d4d" >2</text>
<text x="266.83" y="833.50" font-size="8.7" text-anchor="middle" fill="#4d4d4d" >3</text>
<text x="288.07" y="833.50" font-size="8.7" text-anchor="middle" fill="#4d4d4d" >4</text>
<text x="309.31" y="833.50" font-size="8.7" text-anchor="middle" fill="#4d4d4d" >5</text>
<text x="330.56" y="833.50" font-size="8.7" text-anchor="middle" fill="#4d4d4d" >6</text>
<text x="276.85" y="700.90" font-size="10.3" text-anchor="middle" fill="#222" textLength="58.6" lengthAdjust="spacingAndGlyphs" >Tone 3 - NT2</text>
<rect x="215.84" y="874.11" width="17.00" height="107.39" fill="#000" stroke="#000" stroke-width="0.6"/>
<rect x="238.24" y="981.15" width="14.70" height="0.35" fill="#d3d3d3" stroke="#4a4a4a" stroke-width="0.6"/>
<rect x="259.48" y="977.44" width="14.70" height="4.06" fill="#d3d3d3" stroke="#4a4a4a" stroke-width="0.6"/>
<rect x="280.72" y="981.15" width="14.70" height="0.35" fill="#d3d3d3" stroke="#4a4a4a" stroke-width="0.6"/>
<rect x="301.96" y="978.60" width="14.70" height="2.90" fill="#d3d3d3" stroke="#4a4a4a" stroke-width="0.6"/>
<rect x="323.21" y="980.57" width="14.70" height="0.93" fill="#d3d3d3" stroke="#4a4a4a" stroke-width="0.6"/>
<rect x="203.10" y="865.40" width="148.70" height="116.10" fill="none" stroke="#555" stroke-width="0.7"/>
<path d="M203.10 981.50h2.2M351.80 981.50h-2.2M203.10 969.89h1.7M351.80 969.89h-1.7M203.10 958.28h2.2M351.80 958.28h-2.2M203.10 946.67h1.7M351.80 946.67h-1.7M203.10 935.06h2.2M351.80 935.06h-2.2M203.10 923.45h1.7M351.80 923.45h-1.7M203.10 911.84h2.2M351.80 911.84h-2.2M203.10 900.23h1.7M351.80 900.23h-1.7M203.10 888.62h2.2M351.80 888.62h-2.2M203.10 877.01h1.7M351.80 877.01h-1.7M203.10 865.40h2.2M351.80 865.40h-2.2M224.34 981.50v-1.8M224.34 865.40v1.8M245.59 981.50v-1.8M245.59 865.40v1.8M266.83 981.50v-1.8M266.83 865.40v1.8M288.07 981.50v-1.8M288.07 865.40v1.8M309.31 981.50v-1.8M309.31 865.40v1.8M330.56 981.50v-1.8M330.56 865.40v1.8" stroke="#555" stroke-width="0.6" fill="none"/>
<text x="201.20" y="984.60" font-size="8.7" text-anchor="end" fill="#4d4d4d" >0</text>
<text x="201.20" y="961.38" font-size="8.7" text-anchor="end" fill="#4d4d4d" >0.2</text>
<text x="201.20" y="938.16" font-size="8.7" text-anchor="end" fill="#4d4d4d" >0.4</text>
<text x="201.20" y="914.94" font-size="8.7" text-anchor="end" fill="#4d4d4d" >0.6</text>
<text x="201.20" y="891.72" font-size="8.7" text-anchor="end" fill="#4d4d4d" >0.8</text>
<text x="201.20" y="868.50" font-size="8.7" text-anchor="end" fill="#4d4d4d" >1</text>
<text x="223.84" y="991.50" font-size="8.7" text-anchor="middle" fill="#4d4d4d" >1</text>
<text x="245.59" y="991.50" font-size="8.7" text-anchor="middle" fill="#4d4d4d" >2</text>
<text x="266.83" y="991.50" font-size="8.7" text-anchor="middle" fill="#4d4d4d" >3</text>
<text x="288.07" y="991.50" font-size="8.7" text-anchor="middle" fill="#4d4d4d" >4</text>
<text x="309.31" y="991.50" font-size="8.7" text-anchor="middle" fill="#4d4d4d" >5</text>
<text x="330.56" y="991.50" font-size="8.7" text-anchor="middle" fill="#4d4d4d" >6</text>
<text x="345.60" y="877.90" font-size="8.7" text-anchor="end" fill="#4d4d4d" textLength="45.8" lengthAdjust="spacingAndGlyphs" >BOR = .010</text>
<rect x="389.04" y="431.22" width="17.00" height="42.08" fill="#000" stroke="#000" stroke-width="0.6"/>
<rect x="411.44" y="466.29" width="14.70" height="7.01" fill="#d3d3d3" stroke="#4a4a4a" stroke-width="0.6"/>
<rect x="432.68" y="456.93" width="14.70" height="16.37" fill="#d3d3d3" stroke="#4a4a4a" stroke-width="0.6"/>
<rect x="453.92" y="450.50" width="14.70" height="22.80" fill="#d3d3d3" stroke="#4a4a4a" stroke-width="0.6"/>
<rect x="475.16" y="460.44" width="14.70" height="12.86" fill="#d3d3d3" stroke="#4a4a4a" stroke-width="0.6"/>
<rect x="496.41" y="457.52" width="14.70" height="15.78" fill="#d3d3d3" stroke="#4a4a4a" stroke-width="0.6"/>
<rect x="376.30" y="356.40" width="148.70" height="116.90" fill="none" stroke="#555" stroke-width="0.7"/>
<path d="M376.30 473.30h2.2M525.00 473.30h-2.2M376.30 461.61h1.7M525.00 461.61h-1.7M376.30 449.92h2.2M525.00 449.92h-2.2M376.30 438.23h1.7M525.00 438.23h-1.7M376.30 426.54h2.2M525.00 426.54h-2.2M376.30 414.85h1.7M525.00 414.85h-1.7M376.30 403.16h2.2M525.00 403.16h-2.2M376.30 391.47h1.7M525.00 391.47h-1.7M376.30 379.78h2.2M525.00 379.78h-2.2M376.30 368.09h1.7M525.00 368.09h-1.7M376.30 356.40h2.2M525.00 356.40h-2.2M397.54 473.30v-1.8M397.54 356.40v1.8M418.79 473.30v-1.8M418.79 356.40v1.8M440.03 473.30v-1.8M440.03 356.40v1.8M461.27 473.30v-1.8M461.27 356.40v1.8M482.51 473.30v-1.8M482.51 356.40v1.8M503.76 473.30v-1.8M503.76 356.40v1.8" stroke="#555" stroke-width="0.6" fill="none"/>
<text x="374.40" y="476.40" font-size="8.7" text-anchor="end" fill="#4d4d4d" >0</text>
<text x="374.40" y="453.02" font-size="8.7" text-anchor="end" fill="#4d4d4d" >0.2</text>
<text x="374.40" y="429.64" font-size="8.7" text-anchor="end" fill="#4d4d4d" >0.4</text>
<text x="374.40" y="406.26" font-size="8.7" text-anchor="end" fill="#4d4d4d" >0.6</text>
<text x="374.40" y="382.88" font-size="8.7" text-anchor="end" fill="#4d4d4d" >0.8</text>
<text x="374.40" y="359.50" font-size="8.7" text-anchor="end" fill="#4d4d4d" >1</text>
<text x="397.04" y="483.30" font-size="8.7" text-anchor="middle" fill="#4d4d4d" >1</text>
<text x="418.79" y="483.30" font-size="8.7" text-anchor="middle" fill="#4d4d4d" >2</text>
<text x="440.03" y="483.30" font-size="8.7" text-anchor="middle" fill="#4d4d4d" >3</text>
<text x="461.27" y="483.30" font-size="8.7" text-anchor="middle" fill="#4d4d4d" >4</text>
<text x="482.51" y="483.30" font-size="8.7" text-anchor="middle" fill="#4d4d4d" >5</text>
<text x="503.76" y="483.30" font-size="8.7" text-anchor="middle" fill="#4d4d4d" >6</text>
<text x="450.75" y="352.60" font-size="10.3" text-anchor="middle" fill="#222" textLength="29.9" lengthAdjust="spacingAndGlyphs" >Tone 4</text>
<rect x="389.04" y="515.48" width="17.00" height="112.62" fill="#000" stroke="#000" stroke-width="0.6"/>
<rect x="411.44" y="627.75" width="14.70" height="0.35" fill="#d3d3d3" stroke="#4a4a4a" stroke-width="0.6"/>
<rect x="432.68" y="627.75" width="14.70" height="0.35" fill="#d3d3d3" stroke="#4a4a4a" stroke-width="0.6"/>
<rect x="453.92" y="626.36" width="14.70" height="1.74" fill="#d3d3d3" stroke="#4a4a4a" stroke-width="0.6"/>
<rect x="475.16" y="627.87" width="14.70" height="0.23" fill="#d3d3d3" stroke="#4a4a4a" stroke-width="0.6"/>
<rect x="496.41" y="627.64" width="14.70" height="0.46" fill="#d3d3d3" stroke="#4a4a4a" stroke-width="0.6"/>
<rect x="376.30" y="512.00" width="148.70" height="116.10" fill="none" stroke="#555" stroke-width="0.7"/>
<path d="M376.30 628.10h2.2M525.00 628.10h-2.2M376.30 616.49h1.7M525.00 616.49h-1.7M376.30 604.88h2.2M525.00 604.88h-2.2M376.30 593.27h1.7M525.00 593.27h-1.7M376.30 581.66h2.2M525.00 581.66h-2.2M376.30 570.05h1.7M525.00 570.05h-1.7M376.30 558.44h2.2M525.00 558.44h-2.2M376.30 546.83h1.7M525.00 546.83h-1.7M376.30 535.22h2.2M525.00 535.22h-2.2M376.30 523.61h1.7M525.00 523.61h-1.7M376.30 512.00h2.2M525.00 512.00h-2.2M397.54 628.10v-1.8M397.54 512.00v1.8M418.79 628.10v-1.8M418.79 512.00v1.8M440.03 628.10v-1.8M440.03 512.00v1.8M461.27 628.10v-1.8M461.27 512.00v1.8M482.51 628.10v-1.8M482.51 512.00v1.8M503.76 628.10v-1.8M503.76 512.00v1.8" stroke="#555" stroke-width="0.6" fill="none"/>
<text x="374.40" y="631.20" font-size="8.7" text-anchor="end" fill="#4d4d4d" >0</text>
<text x="374.40" y="607.98" font-size="8.7" text-anchor="end" fill="#4d4d4d" >0.2</text>
<text x="374.40" y="584.76" font-size="8.7" text-anchor="end" fill="#4d4d4d" >0.4</text>
<text x="374.40" y="561.54" font-size="8.7" text-anchor="end" fill="#4d4d4d" >0.6</text>
<text x="374.40" y="538.32" font-size="8.7" text-anchor="end" fill="#4d4d4d" >0.8</text>
<text x="374.40" y="515.10" font-size="8.7" text-anchor="end" fill="#4d4d4d" >1</text>
<text x="397.04" y="638.10" font-size="8.7" text-anchor="middle" fill="#4d4d4d" >1</text>
<text x="418.79" y="638.10" font-size="8.7" text-anchor="middle" fill="#4d4d4d" >2</text>
<text x="440.03" y="638.10" font-size="8.7" text-anchor="middle" fill="#4d4d4d" >3</text>
<text x="461.27" y="638.10" font-size="8.7" text-anchor="middle" fill="#4d4d4d" >4</text>
<text x="482.51" y="638.10" font-size="8.7" text-anchor="middle" fill="#4d4d4d" >5</text>
<text x="503.76" y="638.10" font-size="8.7" text-anchor="middle" fill="#4d4d4d" >6</text>
<text x="518.80" y="524.50" font-size="8.7" text-anchor="end" fill="#4d4d4d" textLength="45.8" lengthAdjust="spacingAndGlyphs" >BOR = .008</text>
<rect x="389.04" y="788.37" width="17.00" height="35.13" fill="#000" stroke="#000" stroke-width="0.6"/>
<rect x="411.44" y="818.82" width="14.70" height="4.68" fill="#d3d3d3" stroke="#4a4a4a" stroke-width="0.6"/>
<rect x="432.68" y="797.15" width="14.70" height="26.35" fill="#d3d3d3" stroke="#4a4a4a" stroke-width="0.6"/>
<rect x="453.92" y="797.15" width="14.70" height="26.35" fill="#d3d3d3" stroke="#4a4a4a" stroke-width="0.6"/>
<rect x="475.16" y="811.79" width="14.70" height="11.71" fill="#d3d3d3" stroke="#4a4a4a" stroke-width="0.6"/>
<rect x="496.41" y="811.20" width="14.70" height="12.30" fill="#d3d3d3" stroke="#4a4a4a" stroke-width="0.6"/>
<rect x="376.30" y="706.40" width="148.70" height="117.10" fill="none" stroke="#555" stroke-width="0.7"/>
<path d="M376.30 823.50h2.2M525.00 823.50h-2.2M376.30 811.79h1.7M525.00 811.79h-1.7M376.30 800.08h2.2M525.00 800.08h-2.2M376.30 788.37h1.7M525.00 788.37h-1.7M376.30 776.66h2.2M525.00 776.66h-2.2M376.30 764.95h1.7M525.00 764.95h-1.7M376.30 753.24h2.2M525.00 753.24h-2.2M376.30 741.53h1.7M525.00 741.53h-1.7M376.30 729.82h2.2M525.00 729.82h-2.2M376.30 718.11h1.7M525.00 718.11h-1.7M376.30 706.40h2.2M525.00 706.40h-2.2M397.54 823.50v-1.8M397.54 706.40v1.8M418.79 823.50v-1.8M418.79 706.40v1.8M440.03 823.50v-1.8M440.03 706.40v1.8M461.27 823.50v-1.8M461.27 706.40v1.8M482.51 823.50v-1.8M482.51 706.40v1.8M503.76 823.50v-1.8M503.76 706.40v1.8" stroke="#555" stroke-width="0.6" fill="none"/>
<text x="374.40" y="826.60" font-size="8.7" text-anchor="end" fill="#4d4d4d" >0</text>
<text x="374.40" y="803.18" font-size="8.7" text-anchor="end" fill="#4d4d4d" >0.2</text>
<text x="374.40" y="779.76" font-size="8.7" text-anchor="end" fill="#4d4d4d" >0.4</text>
<text x="374.40" y="756.34" font-size="8.7" text-anchor="end" fill="#4d4d4d" >0.6</text>
<text x="374.40" y="732.92" font-size="8.7" text-anchor="end" fill="#4d4d4d" >0.8</text>
<text x="374.40" y="709.50" font-size="8.7" text-anchor="end" fill="#4d4d4d" >1</text>
<text x="397.04" y="833.50" font-size="8.7" text-anchor="middle" fill="#4d4d4d" >1</text>
<text x="418.79" y="833.50" font-size="8.7" text-anchor="middle" fill="#4d4d4d" >2</text>
<text x="440.03" y="833.50" font-size="8.7" text-anchor="middle" fill="#4d4d4d" >3</text>
<text x="461.27" y="833.50" font-size="8.7" text-anchor="middle" fill="#4d4d4d" >4</text>
<text x="482.51" y="833.50" font-size="8.7" text-anchor="middle" fill="#4d4d4d" >5</text>
<text x="503.76" y="833.50" font-size="8.7" text-anchor="middle" fill="#4d4d4d" >6</text>
<text x="450.05" y="700.90" font-size="10.3" text-anchor="middle" fill="#222" textLength="58.6" lengthAdjust="spacingAndGlyphs" >Tone 4 - NT3</text>
<rect x="389.04" y="897.33" width="17.00" height="84.17" fill="#000" stroke="#000" stroke-width="0.6"/>
<rect x="411.44" y="981.27" width="14.70" height="0.23" fill="#d3d3d3" stroke="#4a4a4a" stroke-width="0.6"/>
<rect x="432.68" y="965.83" width="14.70" height="15.67" fill="#d3d3d3" stroke="#4a4a4a" stroke-width="0.6"/>
<rect x="453.92" y="965.48" width="14.70" height="16.02" fill="#d3d3d3" stroke="#4a4a4a" stroke-width="0.6"/>
<rect x="475.16" y="981.27" width="14.70" height="0.23" fill="#d3d3d3" stroke="#4a4a4a" stroke-width="0.6"/>
<rect x="496.41" y="981.15" width="14.70" height="0.35" fill="#d3d3d3" stroke="#4a4a4a" stroke-width="0.6"/>
<rect x="376.30" y="865.40" width="148.70" height="116.10" fill="none" stroke="#555" stroke-width="0.7"/>
<path d="M376.30 981.50h2.2M525.00 981.50h-2.2M376.30 969.89h1.7M525.00 969.89h-1.7M376.30 958.28h2.2M525.00 958.28h-2.2M376.30 946.67h1.7M525.00 946.67h-1.7M376.30 935.06h2.2M525.00 935.06h-2.2M376.30 923.45h1.7M525.00 923.45h-1.7M376.30 911.84h2.2M525.00 911.84h-2.2M376.30 900.23h1.7M525.00 900.23h-1.7M376.30 888.62h2.2M525.00 888.62h-2.2M376.30 877.01h1.7M525.00 877.01h-1.7M376.30 865.40h2.2M525.00 865.40h-2.2M397.54 981.50v-1.8M397.54 865.40v1.8M418.79 981.50v-1.8M418.79 865.40v1.8M440.03 981.50v-1.8M440.03 865.40v1.8M461.27 981.50v-1.8M461.27 865.40v1.8M482.51 981.50v-1.8M482.51 865.40v1.8M503.76 981.50v-1.8M503.76 865.40v1.8" stroke="#555" stroke-width="0.6" fill="none"/>
<text x="374.40" y="984.60" font-size="8.7" text-anchor="end" fill="#4d4d4d" >0</text>
<text x="374.40" y="961.38" font-size="8.7" text-anchor="end" fill="#4d4d4d" >0.2</text>
<text x="374.40" y="938.16" font-size="8.7" text-anchor="end" fill="#4d4d4d" >0.4</text>
<text x="374.40" y="914.94" font-size="8.7" text-anchor="end" fill="#4d4d4d" >0.6</text>
<text x="374.40" y="891.72" font-size="8.7" text-anchor="end" fill="#4d4d4d" >0.8</text>
<text x="374.40" y="868.50" font-size="8.7" text-anchor="end" fill="#4d4d4d" >1</text>
<text x="397.04" y="991.50" font-size="8.7" text-anchor="middle" fill="#4d4d4d" >1</text>
<text x="418.79" y="991.50" font-size="8.7" text-anchor="middle" fill="#4d4d4d" >2</text>
<text x="440.03" y="991.50" font-size="8.7" text-anchor="middle" fill="#4d4d4d" >3</text>
<text x="461.27" y="991.50" font-size="8.7" text-anchor="middle" fill="#4d4d4d" >4</text>
<text x="482.51" y="991.50" font-size="8.7" text-anchor="middle" fill="#4d4d4d" >5</text>
<text x="503.76" y="991.50" font-size="8.7" text-anchor="middle" fill="#4d4d4d" >6</text>
<text x="518.80" y="877.90" font-size="8.7" text-anchor="end" fill="#4d4d4d" textLength="45.8" lengthAdjust="spacingAndGlyphs" >BOR = .003</text>
<rect x="563.39" y="446.41" width="14.70" height="26.89" fill="#d3d3d3" stroke="#4a4a4a" stroke-width="0.6"/>
<rect x="584.64" y="470.96" width="14.70" height="2.34" fill="#d3d3d3" stroke="#4a4a4a" stroke-width="0.6"/>
<rect x="604.73" y="445.83" width="17.00" height="27.47" fill="#000" stroke="#000" stroke-width="0.6"/>
<rect x="627.12" y="455.76" width="14.70" height="17.54" fill="#d3d3d3" stroke="#4a4a4a" stroke-width="0.6"/>
<rect x="648.36" y="458.10" width="14.70" height="15.20" fill="#d3d3d3" stroke="#4a4a4a" stroke-width="0.6"/>
<rect x="669.61" y="445.83" width="14.70" height="27.47" fill="#d3d3d3" stroke="#4a4a4a" stroke-width="0.6"/>
<rect x="549.50" y="356.40" width="148.70" height="116.90" fill="none" stroke="#555" stroke-width="0.7"/>
<path d="M549.50 473.30h2.2M698.20 473.30h-2.2M549.50 461.61h1.7M698.20 461.61h-1.7M549.50 449.92h2.2M698.20 449.92h-2.2M549.50 438.23h1.7M698.20 438.23h-1.7M549.50 426.54h2.2M698.20 426.54h-2.2M549.50 414.85h1.7M698.20 414.85h-1.7M549.50 403.16h2.2M698.20 403.16h-2.2M549.50 391.47h1.7M698.20 391.47h-1.7M549.50 379.78h2.2M698.20 379.78h-2.2M549.50 368.09h1.7M698.20 368.09h-1.7M549.50 356.40h2.2M698.20 356.40h-2.2M570.74 473.30v-1.8M570.74 356.40v1.8M591.99 473.30v-1.8M591.99 356.40v1.8M613.23 473.30v-1.8M613.23 356.40v1.8M634.47 473.30v-1.8M634.47 356.40v1.8M655.71 473.30v-1.8M655.71 356.40v1.8M676.96 473.30v-1.8M676.96 356.40v1.8" stroke="#555" stroke-width="0.6" fill="none"/>
<text x="547.60" y="476.40" font-size="8.7" text-anchor="end" fill="#4d4d4d" >0</text>
<text x="547.60" y="453.02" font-size="8.7" text-anchor="end" fill="#4d4d4d" >0.2</text>
<text x="547.60" y="429.64" font-size="8.7" text-anchor="end" fill="#4d4d4d" >0.4</text>
<text x="547.60" y="406.26" font-size="8.7" text-anchor="end" fill="#4d4d4d" >0.6</text>
<text x="547.60" y="382.88" font-size="8.7" text-anchor="end" fill="#4d4d4d" >0.8</text>
<text x="547.60" y="359.50" font-size="8.7" text-anchor="end" fill="#4d4d4d" >1</text>
<text x="570.24" y="483.30" font-size="8.7" text-anchor="middle" fill="#4d4d4d" >1</text>
<text x="591.99" y="483.30" font-size="8.7" text-anchor="middle" fill="#4d4d4d" >2</text>
<text x="613.23" y="483.30" font-size="8.7" text-anchor="middle" fill="#4d4d4d" >3</text>
<text x="634.47" y="483.30" font-size="8.7" text-anchor="middle" fill="#4d4d4d" >4</text>
<text x="655.71" y="483.30" font-size="8.7" text-anchor="middle" fill="#4d4d4d" >5</text>
<text x="676.96" y="483.30" font-size="8.7" text-anchor="middle" fill="#4d4d4d" >6</text>
<text x="623.95" y="352.60" font-size="10.3" text-anchor="middle" fill="#222" textLength="29.7" lengthAdjust="spacingAndGlyphs" >Tone 5</text>
<rect x="563.39" y="595.59" width="14.70" height="32.51" fill="#d3d3d3" stroke="#4a4a4a" stroke-width="0.6"/>
<rect x="584.64" y="627.87" width="14.70" height="0.23" fill="#d3d3d3" stroke="#4a4a4a" stroke-width="0.6"/>
<rect x="604.73" y="587.47" width="17.00" height="40.64" fill="#000" stroke="#000" stroke-width="0.6"/>
<rect x="627.12" y="626.36" width="14.70" height="1.74" fill="#d3d3d3" stroke="#4a4a4a" stroke-width="0.6"/>
<rect x="648.36" y="627.17" width="14.70" height="0.93" fill="#d3d3d3" stroke="#4a4a4a" stroke-width="0.6"/>
<rect x="669.61" y="587.47" width="14.70" height="40.64" fill="#d3d3d3" stroke="#4a4a4a" stroke-width="0.6"/>
<rect x="549.50" y="512.00" width="148.70" height="116.10" fill="none" stroke="#555" stroke-width="0.7"/>
<path d="M549.50 628.10h2.2M698.20 628.10h-2.2M549.50 616.49h1.7M698.20 616.49h-1.7M549.50 604.88h2.2M698.20 604.88h-2.2M549.50 593.27h1.7M698.20 593.27h-1.7M549.50 581.66h2.2M698.20 581.66h-2.2M549.50 570.05h1.7M698.20 570.05h-1.7M549.50 558.44h2.2M698.20 558.44h-2.2M549.50 546.83h1.7M698.20 546.83h-1.7M549.50 535.22h2.2M698.20 535.22h-2.2M549.50 523.61h1.7M698.20 523.61h-1.7M549.50 512.00h2.2M698.20 512.00h-2.2M570.74 628.10v-1.8M570.74 512.00v1.8M591.99 628.10v-1.8M591.99 512.00v1.8M613.23 628.10v-1.8M613.23 512.00v1.8M634.47 628.10v-1.8M634.47 512.00v1.8M655.71 628.10v-1.8M655.71 512.00v1.8M676.96 628.10v-1.8M676.96 512.00v1.8" stroke="#555" stroke-width="0.6" fill="none"/>
<text x="547.60" y="631.20" font-size="8.7" text-anchor="end" fill="#4d4d4d" >0</text>
<text x="547.60" y="607.98" font-size="8.7" text-anchor="end" fill="#4d4d4d" >0.2</text>
<text x="547.60" y="584.76" font-size="8.7" text-anchor="end" fill="#4d4d4d" >0.4</text>
<text x="547.60" y="561.54" font-size="8.7" text-anchor="end" fill="#4d4d4d" >0.6</text>
<text x="547.60" y="538.32" font-size="8.7" text-anchor="end" fill="#4d4d4d" >0.8</text>
<text x="547.60" y="515.10" font-size="8.7" text-anchor="end" fill="#4d4d4d" >1</text>
<text x="570.24" y="638.10" font-size="8.7" text-anchor="middle" fill="#4d4d4d" >1</text>
<text x="591.99" y="638.10" font-size="8.7" text-anchor="middle" fill="#4d4d4d" >2</text>
<text x="613.23" y="638.10" font-size="8.7" text-anchor="middle" fill="#4d4d4d" >3</text>
<text x="634.47" y="638.10" font-size="8.7" text-anchor="middle" fill="#4d4d4d" >4</text>
<text x="655.71" y="638.10" font-size="8.7" text-anchor="middle" fill="#4d4d4d" >5</text>
<text x="676.96" y="638.10" font-size="8.7" text-anchor="middle" fill="#4d4d4d" >6</text>
<text x="692.00" y="524.50" font-size="8.7" text-anchor="end" fill="#4d4d4d" textLength="45.8" lengthAdjust="spacingAndGlyphs" >BOR = .006</text>
<rect x="563.39" y="800.08" width="14.70" height="23.42" fill="#d3d3d3" stroke="#4a4a4a" stroke-width="0.6"/>
<rect x="584.64" y="820.57" width="14.70" height="2.93" fill="#d3d3d3" stroke="#4a4a4a" stroke-width="0.6"/>
<rect x="605.88" y="804.76" width="14.70" height="18.74" fill="#d3d3d3" stroke="#4a4a4a" stroke-width="0.6"/>
<rect x="627.12" y="805.35" width="14.70" height="18.15" fill="#d3d3d3" stroke="#4a4a4a" stroke-width="0.6"/>
<rect x="648.36" y="802.42" width="14.70" height="21.08" fill="#d3d3d3" stroke="#4a4a4a" stroke-width="0.6"/>
<rect x="668.46" y="791.88" width="17.00" height="31.62" fill="#000" stroke="#000" stroke-width="0.6"/>
<rect x="549.50" y="706.40" width="148.70" height="117.10" fill="none" stroke="#555" stroke-width="0.7"/>
<path d="M549.50 823.50h2.2M698.20 823.50h-2.2M549.50 811.79h1.7M698.20 811.79h-1.7M549.50 800.08h2.2M698.20 800.08h-2.2M549.50 788.37h1.7M698.20 788.37h-1.7M549.50 776.66h2.2M698.20 776.66h-2.2M549.50 764.95h1.7M698.20 764.95h-1.7M549.50 753.24h2.2M698.20 753.24h-2.2M549.50 741.53h1.7M698.20 741.53h-1.7M549.50 729.82h2.2M698.20 729.82h-2.2M549.50 718.11h1.7M698.20 718.11h-1.7M549.50 706.40h2.2M698.20 706.40h-2.2M570.74 823.50v-1.8M570.74 706.40v1.8M591.99 823.50v-1.8M591.99 706.40v1.8M613.23 823.50v-1.8M613.23 706.40v1.8M634.47 823.50v-1.8M634.47 706.40v1.8M655.71 823.50v-1.8M655.71 706.40v1.8M676.96 823.50v-1.8M676.96 706.40v1.8" stroke="#555" stroke-width="0.6" fill="none"/>
<text x="547.60" y="826.60" font-size="8.7" text-anchor="end" fill="#4d4d4d" >0</text>
<text x="547.60" y="803.18" font-size="8.7" text-anchor="end" fill="#4d4d4d" >0.2</text>
<text x="547.60" y="779.76" font-size="8.7" text-anchor="end" fill="#4d4d4d" >0.4</text>
<text x="547.60" y="756.34" font-size="8.7" text-anchor="end" fill="#4d4d4d" >0.6</text>
<text x="547.60" y="732.92" font-size="8.7" text-anchor="end" fill="#4d4d4d" >0.8</text>
<text x="547.60" y="709.50" font-size="8.7" text-anchor="end" fill="#4d4d4d" >1</text>
<text x="570.24" y="833.50" font-size="8.7" text-anchor="middle" fill="#4d4d4d" >1</text>
<text x="591.99" y="833.50" font-size="8.7" text-anchor="middle" fill="#4d4d4d" >2</text>
<text x="613.23" y="833.50" font-size="8.7" text-anchor="middle" fill="#4d4d4d" >3</text>
<text x="634.47" y="833.50" font-size="8.7" text-anchor="middle" fill="#4d4d4d" >4</text>
<text x="655.71" y="833.50" font-size="8.7" text-anchor="middle" fill="#4d4d4d" >5</text>
<text x="676.96" y="833.50" font-size="8.7" text-anchor="middle" fill="#4d4d4d" >6</text>
<text x="623.25" y="700.90" font-size="10.3" text-anchor="middle" fill="#222" textLength="58.6" lengthAdjust="spacingAndGlyphs" >Tone 5 - NT4</text>
<rect x="563.39" y="965.83" width="14.70" height="15.67" fill="#d3d3d3" stroke="#4a4a4a" stroke-width="0.6"/>
<rect x="584.64" y="980.57" width="14.70" height="0.93" fill="#d3d3d3" stroke="#4a4a4a" stroke-width="0.6"/>
<rect x="605.88" y="976.86" width="14.70" height="4.64" fill="#d3d3d3" stroke="#4a4a4a" stroke-width="0.6"/>
<rect x="627.12" y="978.02" width="14.70" height="3.48" fill="#d3d3d3" stroke="#4a4a4a" stroke-width="0.6"/>
<rect x="648.36" y="972.79" width="14.70" height="8.71" fill="#d3d3d3" stroke="#4a4a4a" stroke-width="0.6"/>
<rect x="668.46" y="898.49" width="17.00" height="83.01" fill="#000" stroke="#000" stroke-width="0.6"/>
<rect x="549.50" y="865.40" width="148.70" height="116.10" fill="none" stroke="#555" stroke-width="0.7"/>
<path d="M549.50 981.50h2.2M698.20 981.50h-2.2M549.50 969.89h1.7M698.20 969.89h-1.7M549.50 958.28h2.2M698.20 958.28h-2.2M549.50 946.67h1.7M698.20 946.67h-1.7M549.50 935.06h2.2M698.20 935.06h-2.2M549.50 923.45h1.7M698.20 923.45h-1.7M549.50 911.84h2.2M698.20 911.84h-2.2M549.50 900.23h1.7M698.20 900.23h-1.7M549.50 888.62h2.2M698.20 888.62h-2.2M549.50 877.01h1.7M698.20 877.01h-1.7M549.50 865.40h2.2M698.20 865.40h-2.2M570.74 981.50v-1.8M570.74 865.40v1.8M591.99 981.50v-1.8M591.99 865.40v1.8M613.23 981.50v-1.8M613.23 865.40v1.8M634.47 981.50v-1.8M634.47 865.40v1.8M655.71 981.50v-1.8M655.71 865.40v1.8M676.96 981.50v-1.8M676.96 865.40v1.8" stroke="#555" stroke-width="0.6" fill="none"/>
<text x="547.60" y="984.60" font-size="8.7" text-anchor="end" fill="#4d4d4d" >0</text>
<text x="547.60" y="961.38" font-size="8.7" text-anchor="end" fill="#4d4d4d" >0.2</text>
<text x="547.60" y="938.16" font-size="8.7" text-anchor="end" fill="#4d4d4d" >0.4</text>
<text x="547.60" y="914.94" font-size="8.7" text-anchor="end" fill="#4d4d4d" >0.6</text>
<text x="547.60" y="891.72" font-size="8.7" text-anchor="end" fill="#4d4d4d" >0.8</text>
<text x="547.60" y="868.50" font-size="8.7" text-anchor="end" fill="#4d4d4d" >1</text>
<text x="570.24" y="991.50" font-size="8.7" text-anchor="middle" fill="#4d4d4d" >1</text>
<text x="591.99" y="991.50" font-size="8.7" text-anchor="middle" fill="#4d4d4d" >2</text>
<text x="613.23" y="991.50" font-size="8.7" text-anchor="middle" fill="#4d4d4d" >3</text>
<text x="634.47" y="991.50" font-size="8.7" text-anchor="middle" fill="#4d4d4d" >4</text>
<text x="655.71" y="991.50" font-size="8.7" text-anchor="middle" fill="#4d4d4d" >5</text>
<text x="676.96" y="991.50" font-size="8.7" text-anchor="middle" fill="#4d4d4d" >6</text>
<text x="692.00" y="877.90" font-size="8.7" text-anchor="end" fill="#4d4d4d" textLength="45.8" lengthAdjust="spacingAndGlyphs" >BOR = .036</text>
</svg></body></html>
